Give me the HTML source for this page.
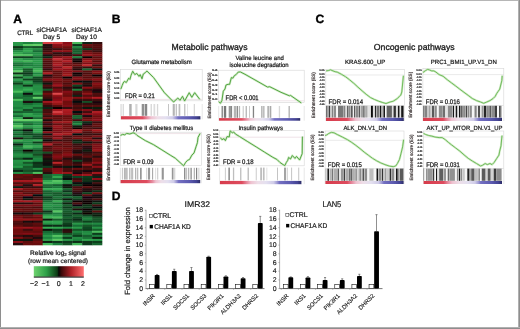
<!DOCTYPE html>
<html><head><meta charset="utf-8"><title>Figure</title>
<style>html,body{margin:0;padding:0;background:#fff;} svg{display:block;} text{font-family:'Liberation Sans', Arial, Helvetica, sans-serif;text-rendering:geometricPrecision;}</style>
</head><body>
<svg width="520" height="329" viewBox="0 0 520 329">
<rect x="0" y="0" width="520" height="329" fill="#ffffff"/>
<text x="13.3" y="23.3" font-size="12.1" font-weight="bold" fill="#000" stroke="#000" stroke-width="0.35">A</text>
<text x="111.7" y="23.3" font-size="12.1" font-weight="bold" fill="#000" stroke="#000" stroke-width="0.35">B</text>
<text x="315.6" y="22.9" font-size="12.1" font-weight="bold" fill="#000" stroke="#000" stroke-width="0.35">C</text>
<text x="111.7" y="200.4" font-size="12.1" font-weight="bold" fill="#000" stroke="#000" stroke-width="0.35">D</text>
<g filter="url(#blur)">
<rect x="13.00" y="42.00" width="10.19" height="2.33" fill="#2a9949"/>
<rect x="22.89" y="42.00" width="10.19" height="2.33" fill="#1e823e"/>
<rect x="32.78" y="42.00" width="10.19" height="2.33" fill="#269145"/>
<rect x="42.67" y="42.00" width="10.19" height="2.33" fill="#d43f43"/>
<rect x="52.56" y="42.00" width="10.19" height="2.33" fill="#cc3539"/>
<rect x="62.44" y="42.00" width="10.19" height="2.33" fill="#8a1014"/>
<rect x="72.33" y="42.00" width="10.19" height="2.33" fill="#46b85a"/>
<rect x="82.22" y="42.00" width="10.19" height="2.33" fill="#0a2112"/>
<rect x="92.11" y="42.00" width="10.19" height="2.33" fill="#32080a"/>
<rect x="13.00" y="44.03" width="10.19" height="2.33" fill="#299748"/>
<rect x="22.89" y="44.03" width="10.19" height="2.33" fill="#5dca64"/>
<rect x="32.78" y="44.03" width="10.19" height="2.33" fill="#64d068"/>
<rect x="42.67" y="44.03" width="10.19" height="2.33" fill="#270809"/>
<rect x="52.56" y="44.03" width="10.19" height="2.33" fill="#8b1014"/>
<rect x="62.44" y="44.03" width="10.19" height="2.33" fill="#911217"/>
<rect x="72.33" y="44.03" width="10.19" height="2.33" fill="#0e371b"/>
<rect x="82.22" y="44.03" width="10.19" height="2.33" fill="#6b0d10"/>
<rect x="92.11" y="44.03" width="10.19" height="2.33" fill="#550b0d"/>
<rect x="13.00" y="46.06" width="10.19" height="2.33" fill="#0d3419"/>
<rect x="22.89" y="46.06" width="10.19" height="2.33" fill="#155b2b"/>
<rect x="32.78" y="46.06" width="10.19" height="2.33" fill="#135126"/>
<rect x="42.67" y="46.06" width="10.19" height="2.33" fill="#260809"/>
<rect x="52.56" y="46.06" width="10.19" height="2.33" fill="#760e11"/>
<rect x="62.44" y="46.06" width="10.19" height="2.33" fill="#700e11"/>
<rect x="72.33" y="46.06" width="10.19" height="2.33" fill="#208640"/>
<rect x="82.22" y="46.06" width="10.19" height="2.33" fill="#500a0d"/>
<rect x="92.11" y="46.06" width="10.19" height="2.33" fill="#560b0d"/>
<rect x="13.00" y="48.09" width="10.19" height="2.33" fill="#16602d"/>
<rect x="22.89" y="48.09" width="10.19" height="2.33" fill="#2c9c4a"/>
<rect x="32.78" y="48.09" width="10.19" height="2.33" fill="#228a42"/>
<rect x="42.67" y="48.09" width="10.19" height="2.33" fill="#31080a"/>
<rect x="52.56" y="48.09" width="10.19" height="2.33" fill="#37090a"/>
<rect x="62.44" y="48.09" width="10.19" height="2.33" fill="#590b0e"/>
<rect x="72.33" y="48.09" width="10.19" height="2.33" fill="#155c2c"/>
<rect x="82.22" y="48.09" width="10.19" height="2.33" fill="#0e371b"/>
<rect x="92.11" y="48.09" width="10.19" height="2.33" fill="#440a0b"/>
<rect x="13.00" y="50.12" width="10.19" height="2.33" fill="#248d43"/>
<rect x="22.89" y="50.12" width="10.19" height="2.33" fill="#32a850"/>
<rect x="32.78" y="50.12" width="10.19" height="2.33" fill="#196c34"/>
<rect x="42.67" y="50.12" width="10.19" height="2.33" fill="#40090b"/>
<rect x="52.56" y="50.12" width="10.19" height="2.33" fill="#8c1115"/>
<rect x="62.44" y="50.12" width="10.19" height="2.33" fill="#8b1014"/>
<rect x="72.33" y="50.12" width="10.19" height="2.33" fill="#165f2d"/>
<rect x="82.22" y="50.12" width="10.19" height="2.33" fill="#590b0e"/>
<rect x="92.11" y="50.12" width="10.19" height="2.33" fill="#3b090a"/>
<rect x="13.00" y="52.15" width="10.19" height="2.33" fill="#30a54e"/>
<rect x="22.89" y="52.15" width="10.19" height="2.33" fill="#258e44"/>
<rect x="32.78" y="52.15" width="10.19" height="2.33" fill="#248e44"/>
<rect x="42.67" y="52.15" width="10.19" height="2.33" fill="#620c0f"/>
<rect x="52.56" y="52.15" width="10.19" height="2.33" fill="#2d0809"/>
<rect x="62.44" y="52.15" width="10.19" height="2.33" fill="#2e0809"/>
<rect x="72.33" y="52.15" width="10.19" height="2.33" fill="#176430"/>
<rect x="82.22" y="52.15" width="10.19" height="2.33" fill="#7a0e12"/>
<rect x="92.11" y="52.15" width="10.19" height="2.33" fill="#680d10"/>
<rect x="13.00" y="54.18" width="10.19" height="2.33" fill="#51c05f"/>
<rect x="22.89" y="54.18" width="10.19" height="2.33" fill="#4dbe5d"/>
<rect x="32.78" y="54.18" width="10.19" height="2.33" fill="#258f44"/>
<rect x="42.67" y="54.18" width="10.19" height="2.33" fill="#230808"/>
<rect x="52.56" y="54.18" width="10.19" height="2.33" fill="#440a0b"/>
<rect x="62.44" y="54.18" width="10.19" height="2.33" fill="#33080a"/>
<rect x="72.33" y="54.18" width="10.19" height="2.33" fill="#40090b"/>
<rect x="82.22" y="54.18" width="10.19" height="2.33" fill="#941318"/>
<rect x="92.11" y="54.18" width="10.19" height="2.33" fill="#7f0f13"/>
<rect x="13.00" y="56.21" width="10.19" height="2.33" fill="#10421f"/>
<rect x="22.89" y="56.21" width="10.19" height="2.33" fill="#104320"/>
<rect x="32.78" y="56.21" width="10.19" height="2.33" fill="#186932"/>
<rect x="42.67" y="56.21" width="10.19" height="2.33" fill="#0b2614"/>
<rect x="52.56" y="56.21" width="10.19" height="2.33" fill="#7e0f12"/>
<rect x="62.44" y="56.21" width="10.19" height="2.33" fill="#981519"/>
<rect x="72.33" y="56.21" width="10.19" height="2.33" fill="#1d7d3b"/>
<rect x="82.22" y="56.21" width="10.19" height="2.33" fill="#0f0606"/>
<rect x="92.11" y="56.21" width="10.19" height="2.33" fill="#5a0b0e"/>
<rect x="13.00" y="58.24" width="10.19" height="2.33" fill="#30a44e"/>
<rect x="22.89" y="58.24" width="10.19" height="2.33" fill="#238b42"/>
<rect x="32.78" y="58.24" width="10.19" height="2.33" fill="#248e44"/>
<rect x="42.67" y="58.24" width="10.19" height="2.33" fill="#6b0d10"/>
<rect x="52.56" y="58.24" width="10.19" height="2.33" fill="#c42c31"/>
<rect x="62.44" y="58.24" width="10.19" height="2.33" fill="#871014"/>
<rect x="72.33" y="58.24" width="10.19" height="2.33" fill="#170707"/>
<rect x="82.22" y="58.24" width="10.19" height="2.33" fill="#830f13"/>
<rect x="92.11" y="58.24" width="10.19" height="2.33" fill="#6f0d10"/>
<rect x="13.00" y="60.27" width="10.19" height="2.33" fill="#31a64f"/>
<rect x="22.89" y="60.27" width="10.19" height="2.33" fill="#40b357"/>
<rect x="32.78" y="60.27" width="10.19" height="2.33" fill="#2c9c4a"/>
<rect x="42.67" y="60.27" width="10.19" height="2.33" fill="#4d0a0c"/>
<rect x="52.56" y="60.27" width="10.19" height="2.33" fill="#911217"/>
<rect x="62.44" y="60.27" width="10.19" height="2.33" fill="#af1c22"/>
<rect x="72.33" y="60.27" width="10.19" height="2.33" fill="#0f0606"/>
<rect x="82.22" y="60.27" width="10.19" height="2.33" fill="#a0171c"/>
<rect x="92.11" y="60.27" width="10.19" height="2.33" fill="#570b0d"/>
<rect x="13.00" y="62.30" width="10.19" height="2.33" fill="#1c7a3a"/>
<rect x="22.89" y="62.30" width="10.19" height="2.33" fill="#1e823e"/>
<rect x="32.78" y="62.30" width="10.19" height="2.33" fill="#279346"/>
<rect x="42.67" y="62.30" width="10.19" height="2.33" fill="#510b0d"/>
<rect x="52.56" y="62.30" width="10.19" height="2.33" fill="#a1181d"/>
<rect x="62.44" y="62.30" width="10.19" height="2.33" fill="#7d0f12"/>
<rect x="72.33" y="62.30" width="10.19" height="2.33" fill="#4e0a0c"/>
<rect x="82.22" y="62.30" width="10.19" height="2.33" fill="#7e0f12"/>
<rect x="92.11" y="62.30" width="10.19" height="2.33" fill="#7d0f12"/>
<rect x="13.00" y="64.33" width="10.19" height="2.33" fill="#196a32"/>
<rect x="22.89" y="64.33" width="10.19" height="2.33" fill="#1c7a3a"/>
<rect x="32.78" y="64.33" width="10.19" height="2.33" fill="#218740"/>
<rect x="42.67" y="64.33" width="10.19" height="2.33" fill="#480a0c"/>
<rect x="52.56" y="64.33" width="10.19" height="2.33" fill="#a91a20"/>
<rect x="62.44" y="64.33" width="10.19" height="2.33" fill="#750e11"/>
<rect x="72.33" y="64.33" width="10.19" height="2.33" fill="#6c0d10"/>
<rect x="82.22" y="64.33" width="10.19" height="2.33" fill="#bf262b"/>
<rect x="92.11" y="64.33" width="10.19" height="2.33" fill="#35090a"/>
<rect x="13.00" y="66.36" width="10.19" height="2.33" fill="#289547"/>
<rect x="22.89" y="66.36" width="10.19" height="2.33" fill="#2c9d4b"/>
<rect x="32.78" y="66.36" width="10.19" height="2.33" fill="#228a42"/>
<rect x="42.67" y="66.36" width="10.19" height="2.33" fill="#4d0a0c"/>
<rect x="52.56" y="66.36" width="10.19" height="2.33" fill="#790e12"/>
<rect x="62.44" y="66.36" width="10.19" height="2.33" fill="#bb2127"/>
<rect x="72.33" y="66.36" width="10.19" height="2.33" fill="#3d090b"/>
<rect x="82.22" y="66.36" width="10.19" height="2.33" fill="#37090a"/>
<rect x="92.11" y="66.36" width="10.19" height="2.33" fill="#660c0f"/>
<rect x="13.00" y="68.39" width="10.19" height="2.33" fill="#2c9c4a"/>
<rect x="22.89" y="68.39" width="10.19" height="2.33" fill="#145528"/>
<rect x="32.78" y="68.39" width="10.19" height="2.33" fill="#39ae53"/>
<rect x="42.67" y="68.39" width="10.19" height="2.33" fill="#33080a"/>
<rect x="52.56" y="68.39" width="10.19" height="2.33" fill="#9d161b"/>
<rect x="62.44" y="68.39" width="10.19" height="2.33" fill="#8c1115"/>
<rect x="72.33" y="68.39" width="10.19" height="2.33" fill="#210708"/>
<rect x="82.22" y="68.39" width="10.19" height="2.33" fill="#176530"/>
<rect x="92.11" y="68.39" width="10.19" height="2.33" fill="#07110b"/>
<rect x="13.00" y="70.42" width="10.19" height="2.33" fill="#64d068"/>
<rect x="22.89" y="70.42" width="10.19" height="2.33" fill="#145528"/>
<rect x="32.78" y="70.42" width="10.19" height="2.33" fill="#46b859"/>
<rect x="42.67" y="70.42" width="10.19" height="2.33" fill="#690d10"/>
<rect x="52.56" y="70.42" width="10.19" height="2.33" fill="#630c0f"/>
<rect x="62.44" y="70.42" width="10.19" height="2.33" fill="#881014"/>
<rect x="72.33" y="70.42" width="10.19" height="2.33" fill="#7d0f12"/>
<rect x="82.22" y="70.42" width="10.19" height="2.33" fill="#5d0c0e"/>
<rect x="92.11" y="70.42" width="10.19" height="2.33" fill="#830f13"/>
<rect x="13.00" y="72.45" width="10.19" height="2.33" fill="#0d3018"/>
<rect x="22.89" y="72.45" width="10.19" height="2.33" fill="#0e381b"/>
<rect x="32.78" y="72.45" width="10.19" height="2.33" fill="#1f843f"/>
<rect x="42.67" y="72.45" width="10.19" height="2.33" fill="#ad1c21"/>
<rect x="52.56" y="72.45" width="10.19" height="2.33" fill="#610c0f"/>
<rect x="62.44" y="72.45" width="10.19" height="2.33" fill="#911217"/>
<rect x="72.33" y="72.45" width="10.19" height="2.33" fill="#0c0606"/>
<rect x="82.22" y="72.45" width="10.19" height="2.33" fill="#490a0c"/>
<rect x="92.11" y="72.45" width="10.19" height="2.33" fill="#760e11"/>
<rect x="13.00" y="74.48" width="10.19" height="2.33" fill="#40b357"/>
<rect x="22.89" y="74.48" width="10.19" height="2.33" fill="#155a2b"/>
<rect x="32.78" y="74.48" width="10.19" height="2.33" fill="#2ea04c"/>
<rect x="42.67" y="74.48" width="10.19" height="2.33" fill="#1a0707"/>
<rect x="52.56" y="74.48" width="10.19" height="2.33" fill="#640c0f"/>
<rect x="62.44" y="74.48" width="10.19" height="2.33" fill="#a5191e"/>
<rect x="72.33" y="74.48" width="10.19" height="2.33" fill="#1b0708"/>
<rect x="82.22" y="74.48" width="10.19" height="2.33" fill="#5e0c0e"/>
<rect x="92.11" y="74.48" width="10.19" height="2.33" fill="#0e0606"/>
<rect x="13.00" y="76.51" width="10.19" height="2.33" fill="#10421f"/>
<rect x="22.89" y="76.51" width="10.19" height="2.33" fill="#299748"/>
<rect x="32.78" y="76.51" width="10.19" height="2.33" fill="#114922"/>
<rect x="42.67" y="76.51" width="10.19" height="2.33" fill="#460a0b"/>
<rect x="52.56" y="76.51" width="10.19" height="2.33" fill="#5f0c0e"/>
<rect x="62.44" y="76.51" width="10.19" height="2.33" fill="#0c0606"/>
<rect x="72.33" y="76.51" width="10.19" height="2.33" fill="#7f0f13"/>
<rect x="82.22" y="76.51" width="10.19" height="2.33" fill="#560b0d"/>
<rect x="92.11" y="76.51" width="10.19" height="2.33" fill="#5d0c0e"/>
<rect x="13.00" y="78.54" width="10.19" height="2.33" fill="#2ea14d"/>
<rect x="22.89" y="78.54" width="10.19" height="2.33" fill="#0f3f1e"/>
<rect x="32.78" y="78.54" width="10.19" height="2.33" fill="#10411f"/>
<rect x="42.67" y="78.54" width="10.19" height="2.33" fill="#851013"/>
<rect x="52.56" y="78.54" width="10.19" height="2.33" fill="#891014"/>
<rect x="62.44" y="78.54" width="10.19" height="2.33" fill="#630c0f"/>
<rect x="72.33" y="78.54" width="10.19" height="2.33" fill="#7f0f13"/>
<rect x="82.22" y="78.54" width="10.19" height="2.33" fill="#740e11"/>
<rect x="92.11" y="78.54" width="10.19" height="2.33" fill="#8c1115"/>
<rect x="13.00" y="80.57" width="10.19" height="2.33" fill="#1c7a3a"/>
<rect x="22.89" y="80.57" width="10.19" height="2.33" fill="#2a9949"/>
<rect x="32.78" y="80.57" width="10.19" height="2.33" fill="#104320"/>
<rect x="42.67" y="80.57" width="10.19" height="2.33" fill="#40090b"/>
<rect x="52.56" y="80.57" width="10.19" height="2.33" fill="#680d10"/>
<rect x="62.44" y="80.57" width="10.19" height="2.33" fill="#6a0d10"/>
<rect x="72.33" y="80.57" width="10.19" height="2.33" fill="#060b08"/>
<rect x="82.22" y="80.57" width="10.19" height="2.33" fill="#070d09"/>
<rect x="92.11" y="80.57" width="10.19" height="2.33" fill="#510b0d"/>
<rect x="13.00" y="82.60" width="10.19" height="2.33" fill="#10421f"/>
<rect x="22.89" y="82.60" width="10.19" height="2.33" fill="#269245"/>
<rect x="32.78" y="82.60" width="10.19" height="2.33" fill="#186932"/>
<rect x="42.67" y="82.60" width="10.19" height="2.33" fill="#08150d"/>
<rect x="52.56" y="82.60" width="10.19" height="2.33" fill="#7c0f12"/>
<rect x="62.44" y="82.60" width="10.19" height="2.33" fill="#4c0a0c"/>
<rect x="72.33" y="82.60" width="10.19" height="2.33" fill="#810f13"/>
<rect x="82.22" y="82.60" width="10.19" height="2.33" fill="#36090a"/>
<rect x="92.11" y="82.60" width="10.19" height="2.33" fill="#871014"/>
<rect x="13.00" y="84.63" width="10.19" height="2.33" fill="#208640"/>
<rect x="22.89" y="84.63" width="10.19" height="2.33" fill="#0d3219"/>
<rect x="32.78" y="84.63" width="10.19" height="2.33" fill="#238c43"/>
<rect x="42.67" y="84.63" width="10.19" height="2.33" fill="#500a0d"/>
<rect x="52.56" y="84.63" width="10.19" height="2.33" fill="#9f171c"/>
<rect x="62.44" y="84.63" width="10.19" height="2.33" fill="#6a0d10"/>
<rect x="72.33" y="84.63" width="10.19" height="2.33" fill="#104521"/>
<rect x="82.22" y="84.63" width="10.19" height="2.33" fill="#1a0707"/>
<rect x="92.11" y="84.63" width="10.19" height="2.33" fill="#760e11"/>
<rect x="13.00" y="86.66" width="10.19" height="2.33" fill="#248e44"/>
<rect x="22.89" y="86.66" width="10.19" height="2.33" fill="#2a9a49"/>
<rect x="32.78" y="86.66" width="10.19" height="2.33" fill="#258f44"/>
<rect x="42.67" y="86.66" width="10.19" height="2.33" fill="#2f0809"/>
<rect x="52.56" y="86.66" width="10.19" height="2.33" fill="#4c0a0c"/>
<rect x="62.44" y="86.66" width="10.19" height="2.33" fill="#2a0809"/>
<rect x="72.33" y="86.66" width="10.19" height="2.33" fill="#180707"/>
<rect x="82.22" y="86.66" width="10.19" height="2.33" fill="#8a1014"/>
<rect x="92.11" y="86.66" width="10.19" height="2.33" fill="#650c0f"/>
<rect x="13.00" y="88.69" width="10.19" height="2.33" fill="#2c9c4a"/>
<rect x="22.89" y="88.69" width="10.19" height="2.33" fill="#39ae54"/>
<rect x="32.78" y="88.69" width="10.19" height="2.33" fill="#258f44"/>
<rect x="42.67" y="88.69" width="10.19" height="2.33" fill="#15592a"/>
<rect x="52.56" y="88.69" width="10.19" height="2.33" fill="#7a0e12"/>
<rect x="62.44" y="88.69" width="10.19" height="2.33" fill="#460a0b"/>
<rect x="72.33" y="88.69" width="10.19" height="2.33" fill="#1e823e"/>
<rect x="82.22" y="88.69" width="10.19" height="2.33" fill="#3b090a"/>
<rect x="92.11" y="88.69" width="10.19" height="2.33" fill="#280809"/>
<rect x="13.00" y="90.72" width="10.19" height="2.33" fill="#4dbe5d"/>
<rect x="22.89" y="90.72" width="10.19" height="2.33" fill="#248e44"/>
<rect x="32.78" y="90.72" width="10.19" height="2.33" fill="#2b9a4a"/>
<rect x="42.67" y="90.72" width="10.19" height="2.33" fill="#3e090b"/>
<rect x="52.56" y="90.72" width="10.19" height="2.33" fill="#770e12"/>
<rect x="62.44" y="90.72" width="10.19" height="2.33" fill="#861013"/>
<rect x="72.33" y="90.72" width="10.19" height="2.33" fill="#4b0a0c"/>
<rect x="82.22" y="90.72" width="10.19" height="2.33" fill="#620c0f"/>
<rect x="92.11" y="90.72" width="10.19" height="2.33" fill="#160707"/>
<rect x="13.00" y="92.75" width="10.19" height="2.33" fill="#218941"/>
<rect x="22.89" y="92.75" width="10.19" height="2.33" fill="#07100b"/>
<rect x="32.78" y="92.75" width="10.19" height="2.33" fill="#36ab52"/>
<rect x="42.67" y="92.75" width="10.19" height="2.33" fill="#720e11"/>
<rect x="52.56" y="92.75" width="10.19" height="2.33" fill="#dd494c"/>
<rect x="62.44" y="92.75" width="10.19" height="2.33" fill="#760e11"/>
<rect x="72.33" y="92.75" width="10.19" height="2.33" fill="#3b090a"/>
<rect x="82.22" y="92.75" width="10.19" height="2.33" fill="#901216"/>
<rect x="92.11" y="92.75" width="10.19" height="2.33" fill="#520b0d"/>
<rect x="13.00" y="94.78" width="10.19" height="2.33" fill="#1e833e"/>
<rect x="22.89" y="94.78" width="10.19" height="2.33" fill="#165f2d"/>
<rect x="32.78" y="94.78" width="10.19" height="2.33" fill="#155a2b"/>
<rect x="42.67" y="94.78" width="10.19" height="2.33" fill="#500a0d"/>
<rect x="52.56" y="94.78" width="10.19" height="2.33" fill="#931317"/>
<rect x="62.44" y="94.78" width="10.19" height="2.33" fill="#680d10"/>
<rect x="72.33" y="94.78" width="10.19" height="2.33" fill="#0a2112"/>
<rect x="82.22" y="94.78" width="10.19" height="2.33" fill="#550b0d"/>
<rect x="92.11" y="94.78" width="10.19" height="2.33" fill="#4a0a0c"/>
<rect x="13.00" y="96.81" width="10.19" height="2.33" fill="#1a6f35"/>
<rect x="22.89" y="96.81" width="10.19" height="2.33" fill="#1b7738"/>
<rect x="32.78" y="96.81" width="10.19" height="2.33" fill="#64d068"/>
<rect x="42.67" y="96.81" width="10.19" height="2.33" fill="#3d090b"/>
<rect x="52.56" y="96.81" width="10.19" height="2.33" fill="#7d0f12"/>
<rect x="62.44" y="96.81" width="10.19" height="2.33" fill="#911217"/>
<rect x="72.33" y="96.81" width="10.19" height="2.33" fill="#800f13"/>
<rect x="82.22" y="96.81" width="10.19" height="2.33" fill="#8b1014"/>
<rect x="92.11" y="96.81" width="10.19" height="2.33" fill="#b01d22"/>
<rect x="13.00" y="98.84" width="10.19" height="2.33" fill="#50c05e"/>
<rect x="22.89" y="98.84" width="10.19" height="2.33" fill="#1b7638"/>
<rect x="32.78" y="98.84" width="10.19" height="2.33" fill="#1b7337"/>
<rect x="42.67" y="98.84" width="10.19" height="2.33" fill="#140707"/>
<rect x="52.56" y="98.84" width="10.19" height="2.33" fill="#8a1014"/>
<rect x="62.44" y="98.84" width="10.19" height="2.33" fill="#941318"/>
<rect x="72.33" y="98.84" width="10.19" height="2.33" fill="#31080a"/>
<rect x="82.22" y="98.84" width="10.19" height="2.33" fill="#3c090b"/>
<rect x="92.11" y="98.84" width="10.19" height="2.33" fill="#43090b"/>
<rect x="13.00" y="100.87" width="10.19" height="2.33" fill="#248e44"/>
<rect x="22.89" y="100.87" width="10.19" height="2.33" fill="#1b0708"/>
<rect x="32.78" y="100.87" width="10.19" height="2.33" fill="#0c2a15"/>
<rect x="42.67" y="100.87" width="10.19" height="2.33" fill="#a0171c"/>
<rect x="52.56" y="100.87" width="10.19" height="2.33" fill="#b01d22"/>
<rect x="62.44" y="100.87" width="10.19" height="2.33" fill="#700e11"/>
<rect x="72.33" y="100.87" width="10.19" height="2.33" fill="#060a08"/>
<rect x="82.22" y="100.87" width="10.19" height="2.33" fill="#134f25"/>
<rect x="92.11" y="100.87" width="10.19" height="2.33" fill="#1f0708"/>
<rect x="13.00" y="102.90" width="10.19" height="2.33" fill="#248e44"/>
<rect x="22.89" y="102.90" width="10.19" height="2.33" fill="#186932"/>
<rect x="32.78" y="102.90" width="10.19" height="2.33" fill="#1d7f3d"/>
<rect x="42.67" y="102.90" width="10.19" height="2.33" fill="#640c0f"/>
<rect x="52.56" y="102.90" width="10.19" height="2.33" fill="#961418"/>
<rect x="62.44" y="102.90" width="10.19" height="2.33" fill="#750e11"/>
<rect x="72.33" y="102.90" width="10.19" height="2.33" fill="#34090a"/>
<rect x="82.22" y="102.90" width="10.19" height="2.33" fill="#33080a"/>
<rect x="92.11" y="102.90" width="10.19" height="2.33" fill="#2a0809"/>
<rect x="13.00" y="104.93" width="10.19" height="2.33" fill="#258f44"/>
<rect x="22.89" y="104.93" width="10.19" height="2.33" fill="#228941"/>
<rect x="32.78" y="104.93" width="10.19" height="2.33" fill="#258f44"/>
<rect x="42.67" y="104.93" width="10.19" height="2.33" fill="#32080a"/>
<rect x="52.56" y="104.93" width="10.19" height="2.33" fill="#5a0b0e"/>
<rect x="62.44" y="104.93" width="10.19" height="2.33" fill="#7f0f13"/>
<rect x="72.33" y="104.93" width="10.19" height="2.33" fill="#540b0d"/>
<rect x="82.22" y="104.93" width="10.19" height="2.33" fill="#560b0d"/>
<rect x="92.11" y="104.93" width="10.19" height="2.33" fill="#550b0d"/>
<rect x="13.00" y="106.96" width="10.19" height="2.33" fill="#1d7f3d"/>
<rect x="22.89" y="106.96" width="10.19" height="2.33" fill="#259045"/>
<rect x="32.78" y="106.96" width="10.19" height="2.33" fill="#17612e"/>
<rect x="42.67" y="106.96" width="10.19" height="2.33" fill="#0b2714"/>
<rect x="52.56" y="106.96" width="10.19" height="2.33" fill="#0e0606"/>
<rect x="62.44" y="106.96" width="10.19" height="2.33" fill="#33080a"/>
<rect x="72.33" y="106.96" width="10.19" height="2.33" fill="#3e090b"/>
<rect x="82.22" y="106.96" width="10.19" height="2.33" fill="#08160d"/>
<rect x="92.11" y="106.96" width="10.19" height="2.33" fill="#0a1f11"/>
<rect x="13.00" y="108.99" width="10.19" height="2.33" fill="#269145"/>
<rect x="22.89" y="108.99" width="10.19" height="2.33" fill="#124e25"/>
<rect x="32.78" y="108.99" width="10.19" height="2.33" fill="#1f833e"/>
<rect x="42.67" y="108.99" width="10.19" height="2.33" fill="#460a0b"/>
<rect x="52.56" y="108.99" width="10.19" height="2.33" fill="#a0171c"/>
<rect x="62.44" y="108.99" width="10.19" height="2.33" fill="#ad1c21"/>
<rect x="72.33" y="108.99" width="10.19" height="2.33" fill="#610c0f"/>
<rect x="82.22" y="108.99" width="10.19" height="2.33" fill="#810f13"/>
<rect x="92.11" y="108.99" width="10.19" height="2.33" fill="#43090b"/>
<rect x="13.00" y="111.02" width="10.19" height="2.33" fill="#165f2d"/>
<rect x="22.89" y="111.02" width="10.19" height="2.33" fill="#186530"/>
<rect x="32.78" y="111.02" width="10.19" height="2.33" fill="#196a32"/>
<rect x="42.67" y="111.02" width="10.19" height="2.33" fill="#43090b"/>
<rect x="52.56" y="111.02" width="10.19" height="2.33" fill="#d43f43"/>
<rect x="62.44" y="111.02" width="10.19" height="2.33" fill="#a6191f"/>
<rect x="72.33" y="111.02" width="10.19" height="2.33" fill="#060b08"/>
<rect x="82.22" y="111.02" width="10.19" height="2.33" fill="#41090b"/>
<rect x="92.11" y="111.02" width="10.19" height="2.33" fill="#ad1c21"/>
<rect x="13.00" y="113.05" width="10.19" height="2.33" fill="#258f44"/>
<rect x="22.89" y="113.05" width="10.19" height="2.33" fill="#30a44e"/>
<rect x="32.78" y="113.05" width="10.19" height="2.33" fill="#228a42"/>
<rect x="42.67" y="113.05" width="10.19" height="2.33" fill="#610c0f"/>
<rect x="52.56" y="113.05" width="10.19" height="2.33" fill="#b51e24"/>
<rect x="62.44" y="113.05" width="10.19" height="2.33" fill="#9e171b"/>
<rect x="72.33" y="113.05" width="10.19" height="2.33" fill="#3c090b"/>
<rect x="82.22" y="113.05" width="10.19" height="2.33" fill="#871014"/>
<rect x="92.11" y="113.05" width="10.19" height="2.33" fill="#8d1115"/>
<rect x="13.00" y="115.08" width="10.19" height="2.33" fill="#186831"/>
<rect x="22.89" y="115.08" width="10.19" height="2.33" fill="#299848"/>
<rect x="32.78" y="115.08" width="10.19" height="2.33" fill="#299748"/>
<rect x="42.67" y="115.08" width="10.19" height="2.33" fill="#3a090a"/>
<rect x="52.56" y="115.08" width="10.19" height="2.33" fill="#540b0d"/>
<rect x="62.44" y="115.08" width="10.19" height="2.33" fill="#640c0f"/>
<rect x="72.33" y="115.08" width="10.19" height="2.33" fill="#17632f"/>
<rect x="82.22" y="115.08" width="10.19" height="2.33" fill="#1e0708"/>
<rect x="92.11" y="115.08" width="10.19" height="2.33" fill="#6d0d10"/>
<rect x="13.00" y="117.11" width="10.19" height="2.33" fill="#35aa51"/>
<rect x="22.89" y="117.11" width="10.19" height="2.33" fill="#091d10"/>
<rect x="32.78" y="117.11" width="10.19" height="2.33" fill="#186831"/>
<rect x="42.67" y="117.11" width="10.19" height="2.33" fill="#690d10"/>
<rect x="52.56" y="117.11" width="10.19" height="2.33" fill="#650c0f"/>
<rect x="62.44" y="117.11" width="10.19" height="2.33" fill="#6a0d10"/>
<rect x="72.33" y="117.11" width="10.19" height="2.33" fill="#15582a"/>
<rect x="82.22" y="117.11" width="10.19" height="2.33" fill="#620c0f"/>
<rect x="92.11" y="117.11" width="10.19" height="2.33" fill="#7b0f12"/>
<rect x="13.00" y="119.14" width="10.19" height="2.33" fill="#64d068"/>
<rect x="22.89" y="119.14" width="10.19" height="2.33" fill="#64d068"/>
<rect x="32.78" y="119.14" width="10.19" height="2.33" fill="#5ac863"/>
<rect x="42.67" y="119.14" width="10.19" height="2.33" fill="#190707"/>
<rect x="52.56" y="119.14" width="10.19" height="2.33" fill="#530b0d"/>
<rect x="62.44" y="119.14" width="10.19" height="2.33" fill="#710e11"/>
<rect x="72.33" y="119.14" width="10.19" height="2.33" fill="#3e090b"/>
<rect x="82.22" y="119.14" width="10.19" height="2.33" fill="#730e11"/>
<rect x="92.11" y="119.14" width="10.19" height="2.33" fill="#8a1014"/>
<rect x="13.00" y="121.17" width="10.19" height="2.33" fill="#1d7e3c"/>
<rect x="22.89" y="121.17" width="10.19" height="2.33" fill="#1e823e"/>
<rect x="32.78" y="121.17" width="10.19" height="2.33" fill="#248e44"/>
<rect x="42.67" y="121.17" width="10.19" height="2.33" fill="#560b0d"/>
<rect x="52.56" y="121.17" width="10.19" height="2.33" fill="#9e171b"/>
<rect x="62.44" y="121.17" width="10.19" height="2.33" fill="#9c161b"/>
<rect x="72.33" y="121.17" width="10.19" height="2.33" fill="#196a32"/>
<rect x="82.22" y="121.17" width="10.19" height="2.33" fill="#0c2b16"/>
<rect x="92.11" y="121.17" width="10.19" height="2.33" fill="#39090a"/>
<rect x="13.00" y="123.20" width="10.19" height="2.33" fill="#30a34e"/>
<rect x="22.89" y="123.20" width="10.19" height="2.33" fill="#17622e"/>
<rect x="32.78" y="123.20" width="10.19" height="2.33" fill="#1f833f"/>
<rect x="42.67" y="123.20" width="10.19" height="2.33" fill="#2b0809"/>
<rect x="52.56" y="123.20" width="10.19" height="2.33" fill="#650c0f"/>
<rect x="62.44" y="123.20" width="10.19" height="2.33" fill="#630c0f"/>
<rect x="72.33" y="123.20" width="10.19" height="2.33" fill="#1e833e"/>
<rect x="82.22" y="123.20" width="10.19" height="2.33" fill="#150707"/>
<rect x="92.11" y="123.20" width="10.19" height="2.33" fill="#5e0c0e"/>
<rect x="13.00" y="125.23" width="10.19" height="2.33" fill="#61cd66"/>
<rect x="22.89" y="125.23" width="10.19" height="2.33" fill="#2d9e4b"/>
<rect x="32.78" y="125.23" width="10.19" height="2.33" fill="#36ac52"/>
<rect x="42.67" y="125.23" width="10.19" height="2.33" fill="#530b0d"/>
<rect x="52.56" y="125.23" width="10.19" height="2.33" fill="#99151a"/>
<rect x="62.44" y="125.23" width="10.19" height="2.33" fill="#750e11"/>
<rect x="72.33" y="125.23" width="10.19" height="2.33" fill="#0a1e10"/>
<rect x="82.22" y="125.23" width="10.19" height="2.33" fill="#43090b"/>
<rect x="92.11" y="125.23" width="10.19" height="2.33" fill="#600c0f"/>
<rect x="13.00" y="127.26" width="10.19" height="2.33" fill="#31a54f"/>
<rect x="22.89" y="127.26" width="10.19" height="2.33" fill="#1c7839"/>
<rect x="32.78" y="127.26" width="10.19" height="2.33" fill="#269245"/>
<rect x="42.67" y="127.26" width="10.19" height="2.33" fill="#0c0606"/>
<rect x="52.56" y="127.26" width="10.19" height="2.33" fill="#881014"/>
<rect x="62.44" y="127.26" width="10.19" height="2.33" fill="#690d10"/>
<rect x="72.33" y="127.26" width="10.19" height="2.33" fill="#0f0606"/>
<rect x="82.22" y="127.26" width="10.19" height="2.33" fill="#490a0c"/>
<rect x="92.11" y="127.26" width="10.19" height="2.33" fill="#3a090a"/>
<rect x="13.00" y="129.29" width="10.19" height="2.33" fill="#114922"/>
<rect x="22.89" y="129.29" width="10.19" height="2.33" fill="#070e0a"/>
<rect x="32.78" y="129.29" width="10.19" height="2.33" fill="#30a44e"/>
<rect x="42.67" y="129.29" width="10.19" height="2.33" fill="#0b0606"/>
<rect x="52.56" y="129.29" width="10.19" height="2.33" fill="#830f13"/>
<rect x="62.44" y="129.29" width="10.19" height="2.33" fill="#7d0f12"/>
<rect x="72.33" y="129.29" width="10.19" height="2.33" fill="#ae1c21"/>
<rect x="82.22" y="129.29" width="10.19" height="2.33" fill="#720e11"/>
<rect x="92.11" y="129.29" width="10.19" height="2.33" fill="#a5191e"/>
<rect x="13.00" y="131.32" width="10.19" height="2.33" fill="#1e813e"/>
<rect x="22.89" y="131.32" width="10.19" height="2.33" fill="#135026"/>
<rect x="32.78" y="131.32" width="10.19" height="2.33" fill="#2b9a4a"/>
<rect x="42.67" y="131.32" width="10.19" height="2.33" fill="#881014"/>
<rect x="52.56" y="131.32" width="10.19" height="2.33" fill="#7c0f12"/>
<rect x="62.44" y="131.32" width="10.19" height="2.33" fill="#911217"/>
<rect x="72.33" y="131.32" width="10.19" height="2.33" fill="#99151a"/>
<rect x="82.22" y="131.32" width="10.19" height="2.33" fill="#4a0a0c"/>
<rect x="92.11" y="131.32" width="10.19" height="2.33" fill="#6d0d10"/>
<rect x="13.00" y="133.35" width="10.19" height="2.33" fill="#17622f"/>
<rect x="22.89" y="133.35" width="10.19" height="2.33" fill="#10421f"/>
<rect x="32.78" y="133.35" width="10.19" height="2.33" fill="#124f25"/>
<rect x="42.67" y="133.35" width="10.19" height="2.33" fill="#140707"/>
<rect x="52.56" y="133.35" width="10.19" height="2.33" fill="#b31e23"/>
<rect x="62.44" y="133.35" width="10.19" height="2.33" fill="#a3181d"/>
<rect x="72.33" y="133.35" width="10.19" height="2.33" fill="#060c09"/>
<rect x="82.22" y="133.35" width="10.19" height="2.33" fill="#3b090a"/>
<rect x="92.11" y="133.35" width="10.19" height="2.33" fill="#37090a"/>
<rect x="13.00" y="135.38" width="10.19" height="2.33" fill="#1d7f3d"/>
<rect x="22.89" y="135.38" width="10.19" height="2.33" fill="#1b7437"/>
<rect x="32.78" y="135.38" width="10.19" height="2.33" fill="#114822"/>
<rect x="42.67" y="135.38" width="10.19" height="2.33" fill="#620c0f"/>
<rect x="52.56" y="135.38" width="10.19" height="2.33" fill="#700e11"/>
<rect x="62.44" y="135.38" width="10.19" height="2.33" fill="#470a0c"/>
<rect x="72.33" y="135.38" width="10.19" height="2.33" fill="#5d0c0e"/>
<rect x="82.22" y="135.38" width="10.19" height="2.33" fill="#560b0d"/>
<rect x="92.11" y="135.38" width="10.19" height="2.33" fill="#7d0f12"/>
<rect x="13.00" y="137.41" width="10.19" height="2.33" fill="#1b0708"/>
<rect x="22.89" y="137.41" width="10.19" height="2.33" fill="#135227"/>
<rect x="32.78" y="137.41" width="10.19" height="2.33" fill="#10421f"/>
<rect x="42.67" y="137.41" width="10.19" height="2.33" fill="#3a090a"/>
<rect x="52.56" y="137.41" width="10.19" height="2.33" fill="#9c161b"/>
<rect x="62.44" y="137.41" width="10.19" height="2.33" fill="#550b0d"/>
<rect x="72.33" y="137.41" width="10.19" height="2.33" fill="#6f0d11"/>
<rect x="82.22" y="137.41" width="10.19" height="2.33" fill="#750e11"/>
<rect x="92.11" y="137.41" width="10.19" height="2.33" fill="#210708"/>
<rect x="13.00" y="139.44" width="10.19" height="2.33" fill="#3db155"/>
<rect x="22.89" y="139.44" width="10.19" height="2.33" fill="#2a9949"/>
<rect x="32.78" y="139.44" width="10.19" height="2.33" fill="#36ab52"/>
<rect x="42.67" y="139.44" width="10.19" height="2.33" fill="#07100a"/>
<rect x="52.56" y="139.44" width="10.19" height="2.33" fill="#32080a"/>
<rect x="62.44" y="139.44" width="10.19" height="2.33" fill="#450a0b"/>
<rect x="72.33" y="139.44" width="10.19" height="2.33" fill="#0a2111"/>
<rect x="82.22" y="139.44" width="10.19" height="2.33" fill="#630c0f"/>
<rect x="92.11" y="139.44" width="10.19" height="2.33" fill="#8a1014"/>
<rect x="13.00" y="141.47" width="10.19" height="2.33" fill="#1c7a3a"/>
<rect x="22.89" y="141.47" width="10.19" height="2.33" fill="#1f843f"/>
<rect x="32.78" y="141.47" width="10.19" height="2.33" fill="#0f3c1d"/>
<rect x="42.67" y="141.47" width="10.19" height="2.33" fill="#550b0d"/>
<rect x="52.56" y="141.47" width="10.19" height="2.33" fill="#7a0e12"/>
<rect x="62.44" y="141.47" width="10.19" height="2.33" fill="#5b0b0e"/>
<rect x="72.33" y="141.47" width="10.19" height="2.33" fill="#0d3219"/>
<rect x="82.22" y="141.47" width="10.19" height="2.33" fill="#08140c"/>
<rect x="92.11" y="141.47" width="10.19" height="2.33" fill="#38090a"/>
<rect x="13.00" y="143.50" width="10.19" height="2.33" fill="#0a2312"/>
<rect x="22.89" y="143.50" width="10.19" height="2.33" fill="#248d43"/>
<rect x="32.78" y="143.50" width="10.19" height="2.33" fill="#1f843f"/>
<rect x="42.67" y="143.50" width="10.19" height="2.33" fill="#b71f25"/>
<rect x="52.56" y="143.50" width="10.19" height="2.33" fill="#530b0d"/>
<rect x="62.44" y="143.50" width="10.19" height="2.33" fill="#6e0d10"/>
<rect x="72.33" y="143.50" width="10.19" height="2.33" fill="#38090a"/>
<rect x="82.22" y="143.50" width="10.19" height="2.33" fill="#5c0c0e"/>
<rect x="92.11" y="143.50" width="10.19" height="2.33" fill="#7d0f12"/>
<rect x="13.00" y="145.53" width="10.19" height="2.33" fill="#1a7035"/>
<rect x="22.89" y="145.53" width="10.19" height="2.33" fill="#44b759"/>
<rect x="32.78" y="145.53" width="10.19" height="2.33" fill="#31a64f"/>
<rect x="42.67" y="145.53" width="10.19" height="2.33" fill="#43090b"/>
<rect x="52.56" y="145.53" width="10.19" height="2.33" fill="#6b0d10"/>
<rect x="62.44" y="145.53" width="10.19" height="2.33" fill="#580b0e"/>
<rect x="72.33" y="145.53" width="10.19" height="2.33" fill="#42090b"/>
<rect x="82.22" y="145.53" width="10.19" height="2.33" fill="#280809"/>
<rect x="92.11" y="145.53" width="10.19" height="2.33" fill="#780e12"/>
<rect x="13.00" y="147.56" width="10.19" height="2.33" fill="#1d7f3d"/>
<rect x="22.89" y="147.56" width="10.19" height="2.33" fill="#2a9849"/>
<rect x="32.78" y="147.56" width="10.19" height="2.33" fill="#1d7b3b"/>
<rect x="42.67" y="147.56" width="10.19" height="2.33" fill="#560b0d"/>
<rect x="52.56" y="147.56" width="10.19" height="2.33" fill="#7a0e12"/>
<rect x="62.44" y="147.56" width="10.19" height="2.33" fill="#760e11"/>
<rect x="72.33" y="147.56" width="10.19" height="2.33" fill="#550b0d"/>
<rect x="82.22" y="147.56" width="10.19" height="2.33" fill="#2a0809"/>
<rect x="92.11" y="147.56" width="10.19" height="2.33" fill="#840f13"/>
<rect x="13.00" y="149.59" width="10.19" height="2.33" fill="#17632f"/>
<rect x="22.89" y="149.59" width="10.19" height="2.33" fill="#0c0606"/>
<rect x="32.78" y="149.59" width="10.19" height="2.33" fill="#124d25"/>
<rect x="42.67" y="149.59" width="10.19" height="2.33" fill="#520b0d"/>
<rect x="52.56" y="149.59" width="10.19" height="2.33" fill="#5e0c0e"/>
<rect x="62.44" y="149.59" width="10.19" height="2.33" fill="#620c0f"/>
<rect x="72.33" y="149.59" width="10.19" height="2.33" fill="#220708"/>
<rect x="82.22" y="149.59" width="10.19" height="2.33" fill="#091c10"/>
<rect x="92.11" y="149.59" width="10.19" height="2.33" fill="#951418"/>
<rect x="13.00" y="151.62" width="10.19" height="2.33" fill="#1d7c3b"/>
<rect x="22.89" y="151.62" width="10.19" height="2.33" fill="#134f25"/>
<rect x="32.78" y="151.62" width="10.19" height="2.33" fill="#186630"/>
<rect x="42.67" y="151.62" width="10.19" height="2.33" fill="#124d24"/>
<rect x="52.56" y="151.62" width="10.19" height="2.33" fill="#4d0a0c"/>
<rect x="62.44" y="151.62" width="10.19" height="2.33" fill="#730e11"/>
<rect x="72.33" y="151.62" width="10.19" height="2.33" fill="#140707"/>
<rect x="82.22" y="151.62" width="10.19" height="2.33" fill="#2a0809"/>
<rect x="92.11" y="151.62" width="10.19" height="2.33" fill="#40090b"/>
<rect x="13.00" y="153.65" width="10.19" height="2.33" fill="#269145"/>
<rect x="22.89" y="153.65" width="10.19" height="2.33" fill="#238c43"/>
<rect x="32.78" y="153.65" width="10.19" height="2.33" fill="#124c24"/>
<rect x="42.67" y="153.65" width="10.19" height="2.33" fill="#290809"/>
<rect x="52.56" y="153.65" width="10.19" height="2.33" fill="#760e11"/>
<rect x="62.44" y="153.65" width="10.19" height="2.33" fill="#8c1115"/>
<rect x="72.33" y="153.65" width="10.19" height="2.33" fill="#6b0d10"/>
<rect x="82.22" y="153.65" width="10.19" height="2.33" fill="#460a0b"/>
<rect x="92.11" y="153.65" width="10.19" height="2.33" fill="#610c0f"/>
<rect x="13.00" y="155.68" width="10.19" height="2.33" fill="#238b42"/>
<rect x="22.89" y="155.68" width="10.19" height="2.33" fill="#218841"/>
<rect x="32.78" y="155.68" width="10.19" height="2.33" fill="#1a7236"/>
<rect x="42.67" y="155.68" width="10.19" height="2.33" fill="#3a090a"/>
<rect x="52.56" y="155.68" width="10.19" height="2.33" fill="#881014"/>
<rect x="62.44" y="155.68" width="10.19" height="2.33" fill="#6c0d10"/>
<rect x="72.33" y="155.68" width="10.19" height="2.33" fill="#32080a"/>
<rect x="82.22" y="155.68" width="10.19" height="2.33" fill="#600c0f"/>
<rect x="92.11" y="155.68" width="10.19" height="2.33" fill="#2b0809"/>
<rect x="13.00" y="157.71" width="10.19" height="2.33" fill="#135327"/>
<rect x="22.89" y="157.71" width="10.19" height="2.33" fill="#0a2312"/>
<rect x="32.78" y="157.71" width="10.19" height="2.33" fill="#208640"/>
<rect x="42.67" y="157.71" width="10.19" height="2.33" fill="#1f0708"/>
<rect x="52.56" y="157.71" width="10.19" height="2.33" fill="#760e11"/>
<rect x="62.44" y="157.71" width="10.19" height="2.33" fill="#280809"/>
<rect x="72.33" y="157.71" width="10.19" height="2.33" fill="#210708"/>
<rect x="82.22" y="157.71" width="10.19" height="2.33" fill="#270809"/>
<rect x="92.11" y="157.71" width="10.19" height="2.33" fill="#6e0d10"/>
<rect x="13.00" y="159.74" width="10.19" height="2.33" fill="#289547"/>
<rect x="22.89" y="159.74" width="10.19" height="2.33" fill="#2ea04c"/>
<rect x="32.78" y="159.74" width="10.19" height="2.33" fill="#1f843f"/>
<rect x="42.67" y="159.74" width="10.19" height="2.33" fill="#0a1f11"/>
<rect x="52.56" y="159.74" width="10.19" height="2.33" fill="#38090a"/>
<rect x="62.44" y="159.74" width="10.19" height="2.33" fill="#4b0a0c"/>
<rect x="72.33" y="159.74" width="10.19" height="2.33" fill="#104420"/>
<rect x="82.22" y="159.74" width="10.19" height="2.33" fill="#260809"/>
<rect x="92.11" y="159.74" width="10.19" height="2.33" fill="#5f0c0e"/>
<rect x="13.00" y="161.77" width="10.19" height="2.33" fill="#258f44"/>
<rect x="22.89" y="161.77" width="10.19" height="2.33" fill="#145729"/>
<rect x="32.78" y="161.77" width="10.19" height="2.33" fill="#0c2e17"/>
<rect x="42.67" y="161.77" width="10.19" height="2.33" fill="#130707"/>
<rect x="52.56" y="161.77" width="10.19" height="2.33" fill="#bf262b"/>
<rect x="62.44" y="161.77" width="10.19" height="2.33" fill="#570b0d"/>
<rect x="72.33" y="161.77" width="10.19" height="2.33" fill="#280809"/>
<rect x="82.22" y="161.77" width="10.19" height="2.33" fill="#560b0d"/>
<rect x="92.11" y="161.77" width="10.19" height="2.33" fill="#8c1115"/>
<rect x="13.00" y="163.80" width="10.19" height="2.33" fill="#208740"/>
<rect x="22.89" y="163.80" width="10.19" height="2.33" fill="#1e823e"/>
<rect x="32.78" y="163.80" width="10.19" height="2.33" fill="#0f3b1c"/>
<rect x="42.67" y="163.80" width="10.19" height="2.33" fill="#070e0a"/>
<rect x="52.56" y="163.80" width="10.19" height="2.33" fill="#530b0d"/>
<rect x="62.44" y="163.80" width="10.19" height="2.33" fill="#570b0d"/>
<rect x="72.33" y="163.80" width="10.19" height="2.33" fill="#440a0b"/>
<rect x="82.22" y="163.80" width="10.19" height="2.33" fill="#9b161b"/>
<rect x="92.11" y="163.80" width="10.19" height="2.33" fill="#40090b"/>
<rect x="13.00" y="165.83" width="10.19" height="2.33" fill="#2b9b4a"/>
<rect x="22.89" y="165.83" width="10.19" height="2.33" fill="#165d2c"/>
<rect x="32.78" y="165.83" width="10.19" height="2.33" fill="#0e391c"/>
<rect x="42.67" y="165.83" width="10.19" height="2.33" fill="#0e3a1c"/>
<rect x="52.56" y="165.83" width="10.19" height="2.33" fill="#1a0707"/>
<rect x="62.44" y="165.83" width="10.19" height="2.33" fill="#08150c"/>
<rect x="72.33" y="165.83" width="10.19" height="2.33" fill="#060d09"/>
<rect x="82.22" y="165.83" width="10.19" height="2.33" fill="#3f090b"/>
<rect x="92.11" y="165.83" width="10.19" height="2.33" fill="#8c1115"/>
<rect x="13.00" y="167.86" width="10.19" height="2.33" fill="#17612e"/>
<rect x="22.89" y="167.86" width="10.19" height="2.33" fill="#176530"/>
<rect x="32.78" y="167.86" width="10.19" height="2.33" fill="#248d43"/>
<rect x="42.67" y="167.86" width="10.19" height="2.33" fill="#590b0e"/>
<rect x="52.56" y="167.86" width="10.19" height="2.33" fill="#810f13"/>
<rect x="62.44" y="167.86" width="10.19" height="2.33" fill="#4c0a0c"/>
<rect x="72.33" y="167.86" width="10.19" height="2.33" fill="#680d10"/>
<rect x="82.22" y="167.86" width="10.19" height="2.33" fill="#560b0d"/>
<rect x="92.11" y="167.86" width="10.19" height="2.33" fill="#35090a"/>
<rect x="13.00" y="169.89" width="10.19" height="2.33" fill="#0b2513"/>
<rect x="22.89" y="169.89" width="10.19" height="2.33" fill="#134f26"/>
<rect x="32.78" y="169.89" width="10.19" height="2.33" fill="#114923"/>
<rect x="42.67" y="169.89" width="10.19" height="2.33" fill="#4c0a0c"/>
<rect x="52.56" y="169.89" width="10.19" height="2.33" fill="#881014"/>
<rect x="62.44" y="169.89" width="10.19" height="2.33" fill="#460a0b"/>
<rect x="72.33" y="169.89" width="10.19" height="2.33" fill="#260809"/>
<rect x="82.22" y="169.89" width="10.19" height="2.33" fill="#190707"/>
<rect x="92.11" y="169.89" width="10.19" height="2.33" fill="#270809"/>
<rect x="13.00" y="171.92" width="10.19" height="2.33" fill="#258f44"/>
<rect x="22.89" y="171.92" width="10.19" height="2.33" fill="#1b7437"/>
<rect x="32.78" y="171.92" width="10.19" height="2.33" fill="#4fbf5e"/>
<rect x="42.67" y="171.92" width="10.19" height="2.33" fill="#260809"/>
<rect x="52.56" y="171.92" width="10.19" height="2.33" fill="#981519"/>
<rect x="62.44" y="171.92" width="10.19" height="2.33" fill="#9b161a"/>
<rect x="72.33" y="171.92" width="10.19" height="2.33" fill="#1d0708"/>
<rect x="82.22" y="171.92" width="10.19" height="2.33" fill="#530b0d"/>
<rect x="92.11" y="171.92" width="10.19" height="2.33" fill="#a4191e"/>
<rect x="13.00" y="173.95" width="10.19" height="2.33" fill="#5d0c0e"/>
<rect x="22.89" y="173.95" width="10.19" height="2.33" fill="#6e0d10"/>
<rect x="32.78" y="173.95" width="10.19" height="2.33" fill="#460a0b"/>
<rect x="42.67" y="173.95" width="10.19" height="2.33" fill="#186631"/>
<rect x="52.56" y="173.95" width="10.19" height="2.33" fill="#1d7d3c"/>
<rect x="62.44" y="173.95" width="10.19" height="2.33" fill="#0e391b"/>
<rect x="72.33" y="173.95" width="10.19" height="2.33" fill="#891014"/>
<rect x="82.22" y="173.95" width="10.19" height="2.33" fill="#9e171b"/>
<rect x="92.11" y="173.95" width="10.19" height="2.33" fill="#38090a"/>
<rect x="13.00" y="175.98" width="10.19" height="2.33" fill="#640c0f"/>
<rect x="22.89" y="175.98" width="10.19" height="2.33" fill="#540b0d"/>
<rect x="32.78" y="175.98" width="10.19" height="2.33" fill="#4d0a0c"/>
<rect x="42.67" y="175.98" width="10.19" height="2.33" fill="#16612e"/>
<rect x="52.56" y="175.98" width="10.19" height="2.33" fill="#30a54e"/>
<rect x="62.44" y="175.98" width="10.19" height="2.33" fill="#0b2815"/>
<rect x="72.33" y="175.98" width="10.19" height="2.33" fill="#104320"/>
<rect x="82.22" y="175.98" width="10.19" height="2.33" fill="#0e3a1c"/>
<rect x="92.11" y="175.98" width="10.19" height="2.33" fill="#0a2312"/>
<rect x="13.00" y="178.01" width="10.19" height="2.33" fill="#4e0a0c"/>
<rect x="22.89" y="178.01" width="10.19" height="2.33" fill="#570b0d"/>
<rect x="32.78" y="178.01" width="10.19" height="2.33" fill="#891014"/>
<rect x="42.67" y="178.01" width="10.19" height="2.33" fill="#196a33"/>
<rect x="52.56" y="178.01" width="10.19" height="2.33" fill="#186932"/>
<rect x="62.44" y="178.01" width="10.19" height="2.33" fill="#070f0a"/>
<rect x="72.33" y="178.01" width="10.19" height="2.33" fill="#39090a"/>
<rect x="82.22" y="178.01" width="10.19" height="2.33" fill="#0d3319"/>
<rect x="92.11" y="178.01" width="10.19" height="2.33" fill="#8e1115"/>
<rect x="13.00" y="180.04" width="10.19" height="2.33" fill="#a5191e"/>
<rect x="22.89" y="180.04" width="10.19" height="2.33" fill="#a4191e"/>
<rect x="32.78" y="180.04" width="10.19" height="2.33" fill="#ab1b20"/>
<rect x="42.67" y="180.04" width="10.19" height="2.33" fill="#34a951"/>
<rect x="52.56" y="180.04" width="10.19" height="2.33" fill="#55c461"/>
<rect x="62.44" y="180.04" width="10.19" height="2.33" fill="#1e823e"/>
<rect x="72.33" y="180.04" width="10.19" height="2.33" fill="#560b0d"/>
<rect x="82.22" y="180.04" width="10.19" height="2.33" fill="#0c2f17"/>
<rect x="92.11" y="180.04" width="10.19" height="2.33" fill="#091b0f"/>
<rect x="13.00" y="182.07" width="10.19" height="2.33" fill="#570b0d"/>
<rect x="22.89" y="182.07" width="10.19" height="2.33" fill="#5f0c0e"/>
<rect x="32.78" y="182.07" width="10.19" height="2.33" fill="#4f0a0c"/>
<rect x="42.67" y="182.07" width="10.19" height="2.33" fill="#45b759"/>
<rect x="52.56" y="182.07" width="10.19" height="2.33" fill="#40b457"/>
<rect x="62.44" y="182.07" width="10.19" height="2.33" fill="#20853f"/>
<rect x="72.33" y="182.07" width="10.19" height="2.33" fill="#070d09"/>
<rect x="82.22" y="182.07" width="10.19" height="2.33" fill="#060a08"/>
<rect x="92.11" y="182.07" width="10.19" height="2.33" fill="#3e090b"/>
<rect x="13.00" y="184.10" width="10.19" height="2.33" fill="#790e12"/>
<rect x="22.89" y="184.10" width="10.19" height="2.33" fill="#260809"/>
<rect x="32.78" y="184.10" width="10.19" height="2.33" fill="#b21d23"/>
<rect x="42.67" y="184.10" width="10.19" height="2.33" fill="#1a6e35"/>
<rect x="52.56" y="184.10" width="10.19" height="2.33" fill="#17612e"/>
<rect x="62.44" y="184.10" width="10.19" height="2.33" fill="#07120b"/>
<rect x="72.33" y="184.10" width="10.19" height="2.33" fill="#0d351a"/>
<rect x="82.22" y="184.10" width="10.19" height="2.33" fill="#0e0606"/>
<rect x="92.11" y="184.10" width="10.19" height="2.33" fill="#0c0606"/>
<rect x="13.00" y="186.13" width="10.19" height="2.33" fill="#091b0f"/>
<rect x="22.89" y="186.13" width="10.19" height="2.33" fill="#37090a"/>
<rect x="32.78" y="186.13" width="10.19" height="2.33" fill="#38090a"/>
<rect x="42.67" y="186.13" width="10.19" height="2.33" fill="#186832"/>
<rect x="52.56" y="186.13" width="10.19" height="2.33" fill="#1b7638"/>
<rect x="62.44" y="186.13" width="10.19" height="2.33" fill="#091b0f"/>
<rect x="72.33" y="186.13" width="10.19" height="2.33" fill="#440a0b"/>
<rect x="82.22" y="186.13" width="10.19" height="2.33" fill="#590b0e"/>
<rect x="92.11" y="186.13" width="10.19" height="2.33" fill="#35090a"/>
<rect x="13.00" y="188.16" width="10.19" height="2.33" fill="#a4191e"/>
<rect x="22.89" y="188.16" width="10.19" height="2.33" fill="#730e11"/>
<rect x="32.78" y="188.16" width="10.19" height="2.33" fill="#740e11"/>
<rect x="42.67" y="188.16" width="10.19" height="2.33" fill="#34aa51"/>
<rect x="52.56" y="188.16" width="10.19" height="2.33" fill="#34a951"/>
<rect x="62.44" y="188.16" width="10.19" height="2.33" fill="#165f2d"/>
<rect x="72.33" y="188.16" width="10.19" height="2.33" fill="#500a0d"/>
<rect x="82.22" y="188.16" width="10.19" height="2.33" fill="#200708"/>
<rect x="92.11" y="188.16" width="10.19" height="2.33" fill="#38090a"/>
<rect x="13.00" y="190.19" width="10.19" height="2.33" fill="#530b0d"/>
<rect x="22.89" y="190.19" width="10.19" height="2.33" fill="#6b0d10"/>
<rect x="32.78" y="190.19" width="10.19" height="2.33" fill="#660c0f"/>
<rect x="42.67" y="190.19" width="10.19" height="2.33" fill="#186731"/>
<rect x="52.56" y="190.19" width="10.19" height="2.33" fill="#1d7f3d"/>
<rect x="62.44" y="190.19" width="10.19" height="2.33" fill="#0e361a"/>
<rect x="72.33" y="190.19" width="10.19" height="2.33" fill="#3b090a"/>
<rect x="82.22" y="190.19" width="10.19" height="2.33" fill="#150707"/>
<rect x="92.11" y="190.19" width="10.19" height="2.33" fill="#0c2b16"/>
<rect x="13.00" y="192.22" width="10.19" height="2.33" fill="#871014"/>
<rect x="22.89" y="192.22" width="10.19" height="2.33" fill="#550b0d"/>
<rect x="32.78" y="192.22" width="10.19" height="2.33" fill="#660d0f"/>
<rect x="42.67" y="192.22" width="10.19" height="2.33" fill="#16602d"/>
<rect x="52.56" y="192.22" width="10.19" height="2.33" fill="#15582a"/>
<rect x="62.44" y="192.22" width="10.19" height="2.33" fill="#176530"/>
<rect x="72.33" y="192.22" width="10.19" height="2.33" fill="#210708"/>
<rect x="82.22" y="192.22" width="10.19" height="2.33" fill="#0f3f1e"/>
<rect x="92.11" y="192.22" width="10.19" height="2.33" fill="#6a0d10"/>
<rect x="13.00" y="194.25" width="10.19" height="2.33" fill="#6f0d11"/>
<rect x="22.89" y="194.25" width="10.19" height="2.33" fill="#871014"/>
<rect x="32.78" y="194.25" width="10.19" height="2.33" fill="#060c09"/>
<rect x="42.67" y="194.25" width="10.19" height="2.33" fill="#1a7236"/>
<rect x="52.56" y="194.25" width="10.19" height="2.33" fill="#155b2b"/>
<rect x="62.44" y="194.25" width="10.19" height="2.33" fill="#0d341a"/>
<rect x="72.33" y="194.25" width="10.19" height="2.33" fill="#08170d"/>
<rect x="82.22" y="194.25" width="10.19" height="2.33" fill="#5b0b0e"/>
<rect x="92.11" y="194.25" width="10.19" height="2.33" fill="#150707"/>
<rect x="13.00" y="196.28" width="10.19" height="2.33" fill="#5a0b0e"/>
<rect x="22.89" y="196.28" width="10.19" height="2.33" fill="#110607"/>
<rect x="32.78" y="196.28" width="10.19" height="2.33" fill="#3b090a"/>
<rect x="42.67" y="196.28" width="10.19" height="2.33" fill="#0f3c1d"/>
<rect x="52.56" y="196.28" width="10.19" height="2.33" fill="#1b7337"/>
<rect x="62.44" y="196.28" width="10.19" height="2.33" fill="#196d34"/>
<rect x="72.33" y="196.28" width="10.19" height="2.33" fill="#155b2b"/>
<rect x="82.22" y="196.28" width="10.19" height="2.33" fill="#120607"/>
<rect x="92.11" y="196.28" width="10.19" height="2.33" fill="#130707"/>
<rect x="13.00" y="198.31" width="10.19" height="2.33" fill="#620c0f"/>
<rect x="22.89" y="198.31" width="10.19" height="2.33" fill="#091e10"/>
<rect x="32.78" y="198.31" width="10.19" height="2.33" fill="#450a0b"/>
<rect x="42.67" y="198.31" width="10.19" height="2.33" fill="#114922"/>
<rect x="52.56" y="198.31" width="10.19" height="2.33" fill="#155c2b"/>
<rect x="62.44" y="198.31" width="10.19" height="2.33" fill="#091b0f"/>
<rect x="72.33" y="198.31" width="10.19" height="2.33" fill="#0f3e1e"/>
<rect x="82.22" y="198.31" width="10.19" height="2.33" fill="#260809"/>
<rect x="92.11" y="198.31" width="10.19" height="2.33" fill="#480a0c"/>
<rect x="13.00" y="200.34" width="10.19" height="2.33" fill="#a4191e"/>
<rect x="22.89" y="200.34" width="10.19" height="2.33" fill="#a91a20"/>
<rect x="32.78" y="200.34" width="10.19" height="2.33" fill="#99151a"/>
<rect x="42.67" y="200.34" width="10.19" height="2.33" fill="#1a7136"/>
<rect x="52.56" y="200.34" width="10.19" height="2.33" fill="#37ac52"/>
<rect x="62.44" y="200.34" width="10.19" height="2.33" fill="#16602e"/>
<rect x="72.33" y="200.34" width="10.19" height="2.33" fill="#0a0606"/>
<rect x="82.22" y="200.34" width="10.19" height="2.33" fill="#0e0606"/>
<rect x="92.11" y="200.34" width="10.19" height="2.33" fill="#08160d"/>
<rect x="13.00" y="202.37" width="10.19" height="2.33" fill="#260809"/>
<rect x="22.89" y="202.37" width="10.19" height="2.33" fill="#2b0809"/>
<rect x="32.78" y="202.37" width="10.19" height="2.33" fill="#570b0d"/>
<rect x="42.67" y="202.37" width="10.19" height="2.33" fill="#208640"/>
<rect x="52.56" y="202.37" width="10.19" height="2.33" fill="#1b7538"/>
<rect x="62.44" y="202.37" width="10.19" height="2.33" fill="#0a2111"/>
<rect x="72.33" y="202.37" width="10.19" height="2.33" fill="#4b0a0c"/>
<rect x="82.22" y="202.37" width="10.19" height="2.33" fill="#0b0606"/>
<rect x="92.11" y="202.37" width="10.19" height="2.33" fill="#0f3c1d"/>
<rect x="13.00" y="204.40" width="10.19" height="2.33" fill="#7e0f13"/>
<rect x="22.89" y="204.40" width="10.19" height="2.33" fill="#7c0f12"/>
<rect x="32.78" y="204.40" width="10.19" height="2.33" fill="#7a0e12"/>
<rect x="42.67" y="204.40" width="10.19" height="2.33" fill="#279446"/>
<rect x="52.56" y="204.40" width="10.19" height="2.33" fill="#289547"/>
<rect x="62.44" y="204.40" width="10.19" height="2.33" fill="#165e2c"/>
<rect x="72.33" y="204.40" width="10.19" height="2.33" fill="#110607"/>
<rect x="82.22" y="204.40" width="10.19" height="2.33" fill="#0d3018"/>
<rect x="92.11" y="204.40" width="10.19" height="2.33" fill="#40090b"/>
<rect x="13.00" y="206.43" width="10.19" height="2.33" fill="#4c0a0c"/>
<rect x="22.89" y="206.43" width="10.19" height="2.33" fill="#570b0d"/>
<rect x="32.78" y="206.43" width="10.19" height="2.33" fill="#470a0c"/>
<rect x="42.67" y="206.43" width="10.19" height="2.33" fill="#218841"/>
<rect x="52.56" y="206.43" width="10.19" height="2.33" fill="#1c7b3a"/>
<rect x="62.44" y="206.43" width="10.19" height="2.33" fill="#0e3a1c"/>
<rect x="72.33" y="206.43" width="10.19" height="2.33" fill="#124e25"/>
<rect x="82.22" y="206.43" width="10.19" height="2.33" fill="#0e391b"/>
<rect x="92.11" y="206.43" width="10.19" height="2.33" fill="#060a08"/>
<rect x="13.00" y="208.46" width="10.19" height="2.33" fill="#6f0d10"/>
<rect x="22.89" y="208.46" width="10.19" height="2.33" fill="#600c0f"/>
<rect x="32.78" y="208.46" width="10.19" height="2.33" fill="#6a0d10"/>
<rect x="42.67" y="208.46" width="10.19" height="2.33" fill="#218740"/>
<rect x="52.56" y="208.46" width="10.19" height="2.33" fill="#228941"/>
<rect x="62.44" y="208.46" width="10.19" height="2.33" fill="#15582a"/>
<rect x="72.33" y="208.46" width="10.19" height="2.33" fill="#1d0708"/>
<rect x="82.22" y="208.46" width="10.19" height="2.33" fill="#0c0606"/>
<rect x="92.11" y="208.46" width="10.19" height="2.33" fill="#0d341a"/>
<rect x="13.00" y="210.49" width="10.19" height="2.33" fill="#5b0b0e"/>
<rect x="22.89" y="210.49" width="10.19" height="2.33" fill="#580b0e"/>
<rect x="32.78" y="210.49" width="10.19" height="2.33" fill="#570b0d"/>
<rect x="42.67" y="210.49" width="10.19" height="2.33" fill="#0e361a"/>
<rect x="52.56" y="210.49" width="10.19" height="2.33" fill="#59c763"/>
<rect x="62.44" y="210.49" width="10.19" height="2.33" fill="#15592a"/>
<rect x="72.33" y="210.49" width="10.19" height="2.33" fill="#1a7136"/>
<rect x="82.22" y="210.49" width="10.19" height="2.33" fill="#08140c"/>
<rect x="92.11" y="210.49" width="10.19" height="2.33" fill="#560b0d"/>
<rect x="13.00" y="212.52" width="10.19" height="2.33" fill="#140707"/>
<rect x="22.89" y="212.52" width="10.19" height="2.33" fill="#1b0708"/>
<rect x="32.78" y="212.52" width="10.19" height="2.33" fill="#0e371b"/>
<rect x="42.67" y="212.52" width="10.19" height="2.33" fill="#165f2d"/>
<rect x="52.56" y="212.52" width="10.19" height="2.33" fill="#1d7d3c"/>
<rect x="62.44" y="212.52" width="10.19" height="2.33" fill="#124c24"/>
<rect x="72.33" y="212.52" width="10.19" height="2.33" fill="#0b2814"/>
<rect x="82.22" y="212.52" width="10.19" height="2.33" fill="#0d0606"/>
<rect x="92.11" y="212.52" width="10.19" height="2.33" fill="#0b2814"/>
<rect x="13.00" y="214.55" width="10.19" height="2.33" fill="#6a0d10"/>
<rect x="22.89" y="214.55" width="10.19" height="2.33" fill="#5e0c0e"/>
<rect x="32.78" y="214.55" width="10.19" height="2.33" fill="#810f13"/>
<rect x="42.67" y="214.55" width="10.19" height="2.33" fill="#2d9f4c"/>
<rect x="52.56" y="214.55" width="10.19" height="2.33" fill="#279346"/>
<rect x="62.44" y="214.55" width="10.19" height="2.33" fill="#114722"/>
<rect x="72.33" y="214.55" width="10.19" height="2.33" fill="#17642f"/>
<rect x="82.22" y="214.55" width="10.19" height="2.33" fill="#104420"/>
<rect x="92.11" y="214.55" width="10.19" height="2.33" fill="#091e10"/>
<rect x="13.00" y="216.58" width="10.19" height="2.33" fill="#7a0e12"/>
<rect x="22.89" y="216.58" width="10.19" height="2.33" fill="#550b0d"/>
<rect x="32.78" y="216.58" width="10.19" height="2.33" fill="#640c0f"/>
<rect x="42.67" y="216.58" width="10.19" height="2.33" fill="#3db155"/>
<rect x="52.56" y="216.58" width="10.19" height="2.33" fill="#4abb5b"/>
<rect x="62.44" y="216.58" width="10.19" height="2.33" fill="#17642f"/>
<rect x="72.33" y="216.58" width="10.19" height="2.33" fill="#114a23"/>
<rect x="82.22" y="216.58" width="10.19" height="2.33" fill="#1c793a"/>
<rect x="92.11" y="216.58" width="10.19" height="2.33" fill="#135026"/>
<rect x="13.00" y="218.61" width="10.19" height="2.33" fill="#911217"/>
<rect x="22.89" y="218.61" width="10.19" height="2.33" fill="#99151a"/>
<rect x="32.78" y="218.61" width="10.19" height="2.33" fill="#911216"/>
<rect x="42.67" y="218.61" width="10.19" height="2.33" fill="#0a1f11"/>
<rect x="52.56" y="218.61" width="10.19" height="2.33" fill="#165d2c"/>
<rect x="62.44" y="218.61" width="10.19" height="2.33" fill="#104420"/>
<rect x="72.33" y="218.61" width="10.19" height="2.33" fill="#0c2c16"/>
<rect x="82.22" y="218.61" width="10.19" height="2.33" fill="#1d7f3c"/>
<rect x="92.11" y="218.61" width="10.19" height="2.33" fill="#15582a"/>
<rect x="13.00" y="220.64" width="10.19" height="2.33" fill="#500a0c"/>
<rect x="22.89" y="220.64" width="10.19" height="2.33" fill="#180707"/>
<rect x="32.78" y="220.64" width="10.19" height="2.33" fill="#200708"/>
<rect x="42.67" y="220.64" width="10.19" height="2.33" fill="#30a44e"/>
<rect x="52.56" y="220.64" width="10.19" height="2.33" fill="#2ea04c"/>
<rect x="62.44" y="220.64" width="10.19" height="2.33" fill="#155a2b"/>
<rect x="72.33" y="220.64" width="10.19" height="2.33" fill="#135227"/>
<rect x="82.22" y="220.64" width="10.19" height="2.33" fill="#10421f"/>
<rect x="92.11" y="220.64" width="10.19" height="2.33" fill="#135026"/>
<rect x="13.00" y="222.67" width="10.19" height="2.33" fill="#4a0a0c"/>
<rect x="22.89" y="222.67" width="10.19" height="2.33" fill="#4b0a0c"/>
<rect x="32.78" y="222.67" width="10.19" height="2.33" fill="#5f0c0e"/>
<rect x="42.67" y="222.67" width="10.19" height="2.33" fill="#269145"/>
<rect x="52.56" y="222.67" width="10.19" height="2.33" fill="#2a9949"/>
<rect x="62.44" y="222.67" width="10.19" height="2.33" fill="#10411f"/>
<rect x="72.33" y="222.67" width="10.19" height="2.33" fill="#2a9849"/>
<rect x="82.22" y="222.67" width="10.19" height="2.33" fill="#218740"/>
<rect x="92.11" y="222.67" width="10.19" height="2.33" fill="#228a42"/>
<rect x="13.00" y="224.70" width="10.19" height="2.33" fill="#600c0f"/>
<rect x="22.89" y="224.70" width="10.19" height="2.33" fill="#3f090b"/>
<rect x="32.78" y="224.70" width="10.19" height="2.33" fill="#530b0d"/>
<rect x="42.67" y="224.70" width="10.19" height="2.33" fill="#0b2714"/>
<rect x="52.56" y="224.70" width="10.19" height="2.33" fill="#0c2b16"/>
<rect x="62.44" y="224.70" width="10.19" height="2.33" fill="#0c2d17"/>
<rect x="72.33" y="224.70" width="10.19" height="2.33" fill="#196e34"/>
<rect x="82.22" y="224.70" width="10.19" height="2.33" fill="#145528"/>
<rect x="92.11" y="224.70" width="10.19" height="2.33" fill="#176430"/>
<rect x="13.00" y="226.73" width="10.19" height="2.33" fill="#911217"/>
<rect x="22.89" y="226.73" width="10.19" height="2.33" fill="#99151a"/>
<rect x="32.78" y="226.73" width="10.19" height="2.33" fill="#891014"/>
<rect x="42.67" y="226.73" width="10.19" height="2.33" fill="#36ab52"/>
<rect x="52.56" y="226.73" width="10.19" height="2.33" fill="#31a74f"/>
<rect x="62.44" y="226.73" width="10.19" height="2.33" fill="#218841"/>
<rect x="72.33" y="226.73" width="10.19" height="2.33" fill="#2b9b4a"/>
<rect x="82.22" y="226.73" width="10.19" height="2.33" fill="#114a23"/>
<rect x="92.11" y="226.73" width="10.19" height="2.33" fill="#289547"/>
<rect x="13.00" y="228.76" width="10.19" height="2.33" fill="#6f0d11"/>
<rect x="22.89" y="228.76" width="10.19" height="2.33" fill="#40090b"/>
<rect x="32.78" y="228.76" width="10.19" height="2.33" fill="#720e11"/>
<rect x="42.67" y="228.76" width="10.19" height="2.33" fill="#070e0a"/>
<rect x="52.56" y="228.76" width="10.19" height="2.33" fill="#0f3d1d"/>
<rect x="62.44" y="228.76" width="10.19" height="2.33" fill="#2c0809"/>
<rect x="72.33" y="228.76" width="10.19" height="2.33" fill="#135126"/>
<rect x="82.22" y="228.76" width="10.19" height="2.33" fill="#0f401f"/>
<rect x="92.11" y="228.76" width="10.19" height="2.33" fill="#165e2c"/>
<rect x="13.00" y="230.79" width="10.19" height="2.33" fill="#6f0d10"/>
<rect x="22.89" y="230.79" width="10.19" height="2.33" fill="#650c0f"/>
<rect x="32.78" y="230.79" width="10.19" height="2.33" fill="#5f0c0f"/>
<rect x="42.67" y="230.79" width="10.19" height="2.33" fill="#196a32"/>
<rect x="52.56" y="230.79" width="10.19" height="2.33" fill="#124e25"/>
<rect x="62.44" y="230.79" width="10.19" height="2.33" fill="#300809"/>
<rect x="72.33" y="230.79" width="10.19" height="2.33" fill="#1e833e"/>
<rect x="82.22" y="230.79" width="10.19" height="2.33" fill="#228a42"/>
<rect x="92.11" y="230.79" width="10.19" height="2.33" fill="#49ba5b"/>
<rect x="13.00" y="232.82" width="10.19" height="2.33" fill="#780e12"/>
<rect x="22.89" y="232.82" width="10.19" height="2.33" fill="#851013"/>
<rect x="32.78" y="232.82" width="10.19" height="2.33" fill="#790e12"/>
<rect x="42.67" y="232.82" width="10.19" height="2.33" fill="#1d7d3c"/>
<rect x="52.56" y="232.82" width="10.19" height="2.33" fill="#1c7b3b"/>
<rect x="62.44" y="232.82" width="10.19" height="2.33" fill="#124d24"/>
<rect x="72.33" y="232.82" width="10.19" height="2.33" fill="#196b33"/>
<rect x="82.22" y="232.82" width="10.19" height="2.33" fill="#269045"/>
<rect x="92.11" y="232.82" width="10.19" height="2.33" fill="#0f3d1d"/>
<rect x="13.00" y="234.85" width="10.19" height="2.33" fill="#3b090a"/>
<rect x="22.89" y="234.85" width="10.19" height="2.33" fill="#200708"/>
<rect x="32.78" y="234.85" width="10.19" height="2.33" fill="#480a0c"/>
<rect x="42.67" y="234.85" width="10.19" height="2.33" fill="#2b9a49"/>
<rect x="52.56" y="234.85" width="10.19" height="2.33" fill="#55c461"/>
<rect x="62.44" y="234.85" width="10.19" height="2.33" fill="#20853f"/>
<rect x="72.33" y="234.85" width="10.19" height="2.33" fill="#0f411f"/>
<rect x="82.22" y="234.85" width="10.19" height="2.33" fill="#165f2d"/>
<rect x="92.11" y="234.85" width="10.19" height="2.33" fill="#1e813d"/>
<rect x="13.00" y="236.88" width="10.19" height="2.33" fill="#7e0f12"/>
<rect x="22.89" y="236.88" width="10.19" height="2.33" fill="#530b0d"/>
<rect x="32.78" y="236.88" width="10.19" height="2.33" fill="#1e0708"/>
<rect x="42.67" y="236.88" width="10.19" height="2.33" fill="#1f843f"/>
<rect x="52.56" y="236.88" width="10.19" height="2.33" fill="#2ea04c"/>
<rect x="62.44" y="236.88" width="10.19" height="2.33" fill="#0f3c1d"/>
<rect x="72.33" y="236.88" width="10.19" height="2.33" fill="#228b42"/>
<rect x="82.22" y="236.88" width="10.19" height="2.33" fill="#1a7136"/>
<rect x="92.11" y="236.88" width="10.19" height="2.33" fill="#0a2011"/>
<rect x="13.00" y="238.91" width="10.19" height="2.33" fill="#08160d"/>
<rect x="22.89" y="238.91" width="10.19" height="2.33" fill="#09190e"/>
<rect x="32.78" y="238.91" width="10.19" height="2.33" fill="#530b0d"/>
<rect x="42.67" y="238.91" width="10.19" height="2.33" fill="#30a34e"/>
<rect x="52.56" y="238.91" width="10.19" height="2.33" fill="#5bc964"/>
<rect x="62.44" y="238.91" width="10.19" height="2.33" fill="#2a9849"/>
<rect x="72.33" y="238.91" width="10.19" height="2.33" fill="#1e833e"/>
<rect x="82.22" y="238.91" width="10.19" height="2.33" fill="#31a54f"/>
<rect x="92.11" y="238.91" width="10.19" height="2.33" fill="#2b9b4a"/>
<rect x="13.00" y="240.94" width="10.19" height="2.33" fill="#8c1115"/>
<rect x="22.89" y="240.94" width="10.19" height="2.33" fill="#5f0c0f"/>
<rect x="32.78" y="240.94" width="10.19" height="2.33" fill="#730e11"/>
<rect x="42.67" y="240.94" width="10.19" height="2.33" fill="#091d10"/>
<rect x="52.56" y="240.94" width="10.19" height="2.33" fill="#0d351a"/>
<rect x="62.44" y="240.94" width="10.19" height="2.33" fill="#0e381b"/>
<rect x="72.33" y="240.94" width="10.19" height="2.33" fill="#0c2f17"/>
<rect x="82.22" y="240.94" width="10.19" height="2.33" fill="#0e361a"/>
<rect x="92.11" y="240.94" width="10.19" height="2.33" fill="#0f3f1e"/>
<rect x="13.00" y="242.97" width="10.19" height="2.33" fill="#270809"/>
<rect x="22.89" y="242.97" width="10.19" height="2.33" fill="#690d10"/>
<rect x="32.78" y="242.97" width="10.19" height="2.33" fill="#670d10"/>
<rect x="42.67" y="242.97" width="10.19" height="2.33" fill="#41b457"/>
<rect x="52.56" y="242.97" width="10.19" height="2.33" fill="#1d7f3c"/>
<rect x="62.44" y="242.97" width="10.19" height="2.33" fill="#135327"/>
<rect x="72.33" y="242.97" width="10.19" height="2.33" fill="#41b457"/>
<rect x="82.22" y="242.97" width="10.19" height="2.33" fill="#0e3a1c"/>
<rect x="92.11" y="242.97" width="10.19" height="2.33" fill="#17632f"/>
</g>
<text x="25.2" y="35.2" font-size="6.4" text-anchor="middle" textLength="16" lengthAdjust="spacingAndGlyphs" fill="#1a1a1a" stroke="#1a1a1a" stroke-width="0.22">CTRL</text>
<text x="51.7" y="32.1" font-size="6.5" text-anchor="middle" textLength="30.4" lengthAdjust="spacingAndGlyphs" fill="#1a1a1a" stroke="#1a1a1a" stroke-width="0.22">siCHAF1A</text>
<text x="51.5" y="39.0" font-size="6.5" text-anchor="middle" textLength="17" lengthAdjust="spacingAndGlyphs" fill="#1a1a1a" stroke="#1a1a1a" stroke-width="0.22">Day 5</text>
<text x="86.7" y="32.1" font-size="6.5" text-anchor="middle" textLength="30.4" lengthAdjust="spacingAndGlyphs" fill="#1a1a1a" stroke="#1a1a1a" stroke-width="0.22">siCHAF1A</text>
<text x="86.5" y="39.0" font-size="6.5" text-anchor="middle" textLength="21" lengthAdjust="spacingAndGlyphs" fill="#1a1a1a" stroke="#1a1a1a" stroke-width="0.22">Day 10</text>
<text x="57.9" y="254.8" font-size="6.5" text-anchor="middle" fill="#1a1a1a" stroke="#1a1a1a" stroke-width="0.24" textLength="55.8" lengthAdjust="spacingAndGlyphs">Relative log<tspan font-size="4.3" dy="1.5">2</tspan><tspan dy="-1.5"> signal</tspan></text>
<text x="58" y="262.6" font-size="6.5" text-anchor="middle" textLength="60" lengthAdjust="spacingAndGlyphs" fill="#1a1a1a" stroke="#1a1a1a" stroke-width="0.22">(row mean centered)</text>
<defs><linearGradient id="cb" x1="0" x2="1" y1="0" y2="0"><stop offset="0" stop-color="#6fd36f"/><stop offset="0.25" stop-color="#2ea048"/><stop offset="0.47" stop-color="#0c3a14"/><stop offset="0.5" stop-color="#050505"/><stop offset="0.55" stop-color="#3a0808"/><stop offset="0.75" stop-color="#b02228"/><stop offset="1" stop-color="#ff7070"/></linearGradient></defs>
<rect x="33.8" y="266.2" width="50" height="10.6" fill="url(#cb)"/>
<line x1="33.8" y1="277.1" x2="83.8" y2="277.1" stroke="#111" stroke-width="1.0"/>
<text x="34.1" y="285.8" font-size="7.0" text-anchor="middle" fill="#1a1a1a" stroke="#1a1a1a" stroke-width="0.2">−2</text>
<text x="45.6" y="285.8" font-size="7.0" text-anchor="middle" fill="#1a1a1a" stroke="#1a1a1a" stroke-width="0.2">−1</text>
<text x="58.7" y="285.8" font-size="7.0" text-anchor="middle" fill="#1a1a1a" stroke="#1a1a1a" stroke-width="0.2">0</text>
<text x="70.9" y="285.8" font-size="7.0" text-anchor="middle" fill="#1a1a1a" stroke="#1a1a1a" stroke-width="0.2">1</text>
<text x="83" y="285.8" font-size="7.0" text-anchor="middle" fill="#1a1a1a" stroke="#1a1a1a" stroke-width="0.2">2</text>
<text x="209.5" y="49.6" font-size="8.7" text-anchor="middle" textLength="76" lengthAdjust="spacingAndGlyphs" fill="#1a1a1a" stroke="#1a1a1a" stroke-width="0.3">Metabolic pathways</text>
<text x="414.2" y="49.8" font-size="8.7" text-anchor="middle" textLength="80.8" lengthAdjust="spacingAndGlyphs" fill="#1a1a1a" stroke="#1a1a1a" stroke-width="0.3">Oncogenic pathways</text>
<defs><filter id="blur" x="-5%" y="-5%" width="110%" height="110%"><feGaussianBlur stdDeviation="0.55"/></filter><filter id="sblur" x="-5%" y="-20%" width="110%" height="140%"><feGaussianBlur stdDeviation="0.35"/></filter></defs>
<defs><linearGradient id="rk1" x1="0" x2="1" y1="0" y2="0"><stop offset="0.000" stop-color="#d63c4c"/><stop offset="0.270" stop-color="#de4c5e"/><stop offset="0.330" stop-color="#e68ca0"/><stop offset="0.380" stop-color="#eec2d0"/><stop offset="0.460" stop-color="#eedee8"/><stop offset="0.560" stop-color="#e4e0f0"/><stop offset="0.650" stop-color="#d0cce8"/><stop offset="0.690" stop-color="#a09cd4"/><stop offset="0.720" stop-color="#7470c2"/><stop offset="0.860" stop-color="#5c5ab0"/><stop offset="0.950" stop-color="#444494"/><stop offset="1.000" stop-color="#2c2c66"/></linearGradient></defs>
<rect x="120.6" y="69.3" width="81.6" height="31.5" fill="none" stroke="#d6d6d6" stroke-width="0.6"/>
<line x1="120.6" y1="99.4" x2="202.2" y2="99.4" stroke="#e4d0d8" stroke-width="0.6"/>
<g filter="url(#sblur)">
<rect x="121.00" y="104.0" width="1.20" height="11.799999999999997" fill="#e6e6e6"/>
<rect x="122.70" y="104.0" width="1.20" height="11.799999999999997" fill="#d7d7d7"/>
<rect x="129.00" y="104.0" width="1.30" height="11.799999999999997" fill="#bebebe"/>
<rect x="130.30" y="104.0" width="1.20" height="11.799999999999997" fill="#969696"/>
<rect x="131.50" y="104.0" width="0.50" height="11.799999999999997" fill="#c8c8c8"/>
<rect x="135.30" y="104.0" width="2.20" height="11.799999999999997" fill="#d7d7d7"/>
<rect x="141.70" y="104.0" width="2.50" height="11.799999999999997" fill="#919191"/>
<rect x="144.70" y="104.0" width="2.50" height="11.799999999999997" fill="#878787"/>
<rect x="150.60" y="104.0" width="1.20" height="11.799999999999997" fill="#d2d2d2"/>
<rect x="153.50" y="104.0" width="1.70" height="11.799999999999997" fill="#dcdcdc"/>
<rect x="156.90" y="104.0" width="1.30" height="11.799999999999997" fill="#d7d7d7"/>
<rect x="168.00" y="104.0" width="0.90" height="11.799999999999997" fill="#bebebe"/>
<rect x="172.70" y="104.0" width="2.10" height="11.799999999999997" fill="#b4b4b4"/>
<rect x="175.70" y="104.0" width="1.20" height="11.799999999999997" fill="#bebebe"/>
<rect x="178.60" y="104.0" width="1.70" height="11.799999999999997" fill="#bebebe"/>
<rect x="184.10" y="104.0" width="1.30" height="11.799999999999997" fill="#bebebe"/>
<rect x="187.00" y="104.0" width="1.00" height="11.799999999999997" fill="#e6e6e6"/>
<rect x="193.80" y="104.0" width="0.90" height="11.799999999999997" fill="#c8c8c8"/>
</g>
<line x1="120.6" y1="104.0" x2="120.6" y2="119.4" stroke="#d6d6d6" stroke-width="0.6"/>
<line x1="202.2" y1="104.0" x2="202.2" y2="119.4" stroke="#d6d6d6" stroke-width="0.6"/>
<rect x="121" y="116.2" width="79.4" height="3.200000000000003" fill="url(#rk1)" filter="url(#sblur)"/>
<polyline points="120.8,89.2 122.2,85.5 123.2,83.0 124.4,81.3 126.3,82.5 128.7,78.2 129.9,79.4 131.1,75.2 132.7,71.2 134.8,74.6 136.8,73.4 139.0,76.4 140.2,74.6 142.0,78.8 143.3,74.0 145.1,72.8 146.9,71.0 153.6,77.6 164.5,92.8 173.6,102.0 177.8,98.0 180.0,100.3 182.5,96.3 184.6,101.0 189.2,92.7 191.8,97.3 194.7,92.7 199.8,99.4" fill="none" stroke="#c4e6b6" stroke-width="2.2" stroke-linejoin="round" opacity="0.8"/>
<polyline points="120.8,89.2 122.2,85.5 123.2,83.0 124.4,81.3 126.3,82.5 128.7,78.2 129.9,79.4 131.1,75.2 132.7,71.2 134.8,74.6 136.8,73.4 139.0,76.4 140.2,74.6 142.0,78.8 143.3,74.0 145.1,72.8 146.9,71.0 153.6,77.6 164.5,92.8 173.6,102.0 177.8,98.0 180.0,100.3 182.5,96.3 184.6,101.0 189.2,92.7 191.8,97.3 194.7,92.7 199.8,99.4" fill="none" stroke="#56a646" stroke-width="1.0" stroke-linejoin="round"/>
<text x="119.4" y="73.4" font-size="2.6" text-anchor="end" font-weight="bold" textLength="5.4" lengthAdjust="spacingAndGlyphs" fill="#262626" stroke="#262626" stroke-width="0.16">0.25</text>
<text x="119.4" y="78.56" font-size="2.6" text-anchor="end" font-weight="bold" textLength="5.4" lengthAdjust="spacingAndGlyphs" fill="#262626" stroke="#262626" stroke-width="0.16">0.20</text>
<text x="119.4" y="83.72" font-size="2.6" text-anchor="end" font-weight="bold" textLength="5.4" lengthAdjust="spacingAndGlyphs" fill="#262626" stroke="#262626" stroke-width="0.16">0.15</text>
<text x="119.4" y="88.88" font-size="2.6" text-anchor="end" font-weight="bold" textLength="5.4" lengthAdjust="spacingAndGlyphs" fill="#262626" stroke="#262626" stroke-width="0.16">0.10</text>
<text x="119.4" y="94.04" font-size="2.6" text-anchor="end" font-weight="bold" textLength="5.4" lengthAdjust="spacingAndGlyphs" fill="#262626" stroke="#262626" stroke-width="0.16">0.05</text>
<text x="119.4" y="99.2" font-size="2.6" text-anchor="end" font-weight="bold" textLength="5.4" lengthAdjust="spacingAndGlyphs" fill="#262626" stroke="#262626" stroke-width="0.16">0.00</text>
<text x="0" y="0" font-size="4.7" text-anchor="middle" fill="#383030" stroke="#383030" stroke-width="0.2" transform="translate(109.6,94.3) rotate(-90)" textLength="46" lengthAdjust="spacingAndGlyphs">Enrichment score (ES)</text>
<text x="161.7" y="63.6" font-size="6.2" text-anchor="middle" textLength="60.4" lengthAdjust="spacingAndGlyphs" fill="#1a1a1a" stroke="#1a1a1a" stroke-width="0.22">Glutamate metabolism</text>
<text x="125.0" y="97.6" font-size="6.7" textLength="29.8" lengthAdjust="spacingAndGlyphs" fill="#1a1a1a" stroke="#1a1a1a" stroke-width="0.25">FDR = 0.21</text>
<defs><linearGradient id="rk2" x1="0" x2="1" y1="0" y2="0"><stop offset="0.000" stop-color="#d63c4c"/><stop offset="0.278" stop-color="#de4c5e"/><stop offset="0.340" stop-color="#e68ca0"/><stop offset="0.383" stop-color="#eec2d0"/><stop offset="0.452" stop-color="#eedee8"/><stop offset="0.538" stop-color="#e4e0f0"/><stop offset="0.616" stop-color="#d0cce8"/><stop offset="0.650" stop-color="#a09cd4"/><stop offset="0.684" stop-color="#7470c2"/><stop offset="0.842" stop-color="#5c5ab0"/><stop offset="0.944" stop-color="#444494"/><stop offset="1.000" stop-color="#2c2c66"/></linearGradient></defs>
<rect x="218.7" y="70.2" width="85.5" height="32.2" fill="none" stroke="#d6d6d6" stroke-width="0.6"/>
<line x1="218.7" y1="100.8" x2="304.2" y2="100.8" stroke="#e4d0d8" stroke-width="0.6"/>
<g filter="url(#sblur)">
<rect x="221.50" y="106.0" width="1.70" height="11.799999999999997" fill="#919191"/>
<rect x="224.00" y="106.0" width="2.20" height="11.799999999999997" fill="#787878"/>
<rect x="228.70" y="106.0" width="1.50" height="11.799999999999997" fill="#969696"/>
<rect x="230.20" y="106.0" width="1.90" height="11.799999999999997" fill="#878787"/>
<rect x="233.80" y="106.0" width="2.50" height="11.799999999999997" fill="#b4b4b4"/>
<rect x="236.70" y="106.0" width="1.30" height="11.799999999999997" fill="#8c8c8c"/>
<rect x="238.80" y="106.0" width="1.30" height="11.799999999999997" fill="#b4b4b4"/>
<rect x="242.60" y="106.0" width="1.30" height="11.799999999999997" fill="#d2d2d2"/>
<rect x="245.60" y="106.0" width="1.30" height="11.799999999999997" fill="#b4b4b4"/>
<rect x="249.00" y="106.0" width="0.80" height="11.799999999999997" fill="#bebebe"/>
<rect x="252.80" y="106.0" width="1.30" height="11.799999999999997" fill="#828282"/>
<rect x="261.10" y="106.0" width="1.50" height="11.799999999999997" fill="#b4b4b4"/>
<rect x="263.00" y="106.0" width="1.60" height="11.799999999999997" fill="#bebebe"/>
<rect x="267.30" y="106.0" width="1.70" height="11.799999999999997" fill="#b4b4b4"/>
<rect x="269.60" y="106.0" width="1.70" height="11.799999999999997" fill="#aaaaaa"/>
<rect x="278.80" y="106.0" width="1.30" height="11.799999999999997" fill="#d7d7d7"/>
<rect x="288.50" y="106.0" width="1.40" height="11.799999999999997" fill="#b4b4b4"/>
</g>
<line x1="218.7" y1="106.0" x2="218.7" y2="120.7" stroke="#d6d6d6" stroke-width="0.6"/>
<line x1="304.2" y1="106.0" x2="304.2" y2="120.7" stroke="#d6d6d6" stroke-width="0.6"/>
<rect x="219" y="118.1" width="81.19999999999999" height="2.6000000000000085" fill="url(#rk2)" filter="url(#sblur)"/>
<polyline points="218.8,101.6 220.4,103.3 221.9,100.6 223.3,91.2 225.0,89.0 226.0,85.0 228.1,84.3 229.6,84.4 231.4,77.5 232.9,78.2 234.3,75.7 236.2,74.5 238.3,72.0 240.5,72.0 245.0,74.3 256.0,80.5 267.6,87.1 269.7,86.7 281.0,92.3 289.4,95.8 290.5,95.4 301.4,103.0" fill="none" stroke="#c4e6b6" stroke-width="2.2" stroke-linejoin="round" opacity="0.8"/>
<polyline points="218.8,101.6 220.4,103.3 221.9,100.6 223.3,91.2 225.0,89.0 226.0,85.0 228.1,84.3 229.6,84.4 231.4,77.5 232.9,78.2 234.3,75.7 236.2,74.5 238.3,72.0 240.5,72.0 245.0,74.3 256.0,80.5 267.6,87.1 269.7,86.7 281.0,92.3 289.4,95.8 290.5,95.4 301.4,103.0" fill="none" stroke="#56a646" stroke-width="1.0" stroke-linejoin="round"/>
<text x="217.5" y="71.3" font-size="2.6" text-anchor="end" font-weight="bold" textLength="5.4" lengthAdjust="spacingAndGlyphs" fill="#262626" stroke="#262626" stroke-width="0.16">0.6</text>
<text x="217.5" y="76.13" font-size="2.6" text-anchor="end" font-weight="bold" textLength="5.4" lengthAdjust="spacingAndGlyphs" fill="#262626" stroke="#262626" stroke-width="0.16">0.5</text>
<text x="217.5" y="80.97" font-size="2.6" text-anchor="end" font-weight="bold" textLength="5.4" lengthAdjust="spacingAndGlyphs" fill="#262626" stroke="#262626" stroke-width="0.16">0.4</text>
<text x="217.5" y="85.8" font-size="2.6" text-anchor="end" font-weight="bold" textLength="5.4" lengthAdjust="spacingAndGlyphs" fill="#262626" stroke="#262626" stroke-width="0.16">0.3</text>
<text x="217.5" y="90.63" font-size="2.6" text-anchor="end" font-weight="bold" textLength="5.4" lengthAdjust="spacingAndGlyphs" fill="#262626" stroke="#262626" stroke-width="0.16">0.2</text>
<text x="217.5" y="95.47" font-size="2.6" text-anchor="end" font-weight="bold" textLength="5.4" lengthAdjust="spacingAndGlyphs" fill="#262626" stroke="#262626" stroke-width="0.16">0.1</text>
<text x="217.5" y="100.3" font-size="2.6" text-anchor="end" font-weight="bold" textLength="5.4" lengthAdjust="spacingAndGlyphs" fill="#262626" stroke="#262626" stroke-width="0.16">0.0</text>
<text x="0" y="0" font-size="4.7" text-anchor="middle" fill="#383030" stroke="#383030" stroke-width="0.2" transform="translate(210.6,95.5) rotate(-90)" textLength="46" lengthAdjust="spacingAndGlyphs">Enrichment score (ES)</text>
<text x="259.6" y="60.0" font-size="6.2" text-anchor="middle" textLength="48.4" lengthAdjust="spacingAndGlyphs" fill="#1a1a1a" stroke="#1a1a1a" stroke-width="0.22">Valine leucine and</text>
<text x="259.0" y="66.8" font-size="6.2" text-anchor="middle" textLength="59" lengthAdjust="spacingAndGlyphs" fill="#1a1a1a" stroke="#1a1a1a" stroke-width="0.22">isoleucine degradation</text>
<text x="225.6" y="99.8" font-size="6.7" textLength="33.0" lengthAdjust="spacingAndGlyphs" fill="#1a1a1a" stroke="#1a1a1a" stroke-width="0.25">FDR &lt; 0.001</text>
<defs><linearGradient id="rk3" x1="0" x2="1" y1="0" y2="0"><stop offset="0.000" stop-color="#d63c4c"/><stop offset="0.327" stop-color="#de4c5e"/><stop offset="0.400" stop-color="#e68ca0"/><stop offset="0.442" stop-color="#eec2d0"/><stop offset="0.508" stop-color="#eedee8"/><stop offset="0.592" stop-color="#e4e0f0"/><stop offset="0.667" stop-color="#d0cce8"/><stop offset="0.700" stop-color="#a09cd4"/><stop offset="0.729" stop-color="#7470c2"/><stop offset="0.865" stop-color="#5c5ab0"/><stop offset="0.952" stop-color="#444494"/><stop offset="1.000" stop-color="#2c2c66"/></linearGradient></defs>
<rect x="120.3" y="132.2" width="81.00000000000001" height="33.30000000000001" fill="none" stroke="#d6d6d6" stroke-width="0.6"/>
<line x1="120.3" y1="133.6" x2="201.3" y2="133.6" stroke="#e4d0d8" stroke-width="0.6"/>
<g filter="url(#sblur)">
<rect x="120.50" y="167.8" width="0.90" height="11.799999999999983" fill="#f0f0f0"/>
<rect x="122.20" y="167.8" width="0.90" height="11.799999999999983" fill="#bebebe"/>
<rect x="124.30" y="167.8" width="1.30" height="11.799999999999983" fill="#969696"/>
<rect x="126.00" y="167.8" width="1.70" height="11.799999999999983" fill="#bebebe"/>
<rect x="129.40" y="167.8" width="0.90" height="11.799999999999983" fill="#969696"/>
<rect x="131.10" y="167.8" width="2.10" height="11.799999999999983" fill="#bebebe"/>
<rect x="135.30" y="167.8" width="0.90" height="11.799999999999983" fill="#969696"/>
<rect x="137.00" y="167.8" width="1.30" height="11.799999999999983" fill="#bebebe"/>
<rect x="140.00" y="167.8" width="1.70" height="11.799999999999983" fill="#969696"/>
<rect x="146.30" y="167.8" width="0.90" height="11.799999999999983" fill="#c8c8c8"/>
<rect x="148.00" y="167.8" width="2.10" height="11.799999999999983" fill="#9b9b9b"/>
<rect x="152.30" y="167.8" width="0.80" height="11.799999999999983" fill="#878787"/>
<rect x="155.20" y="167.8" width="0.90" height="11.799999999999983" fill="#dcdcdc"/>
<rect x="157.30" y="167.8" width="0.90" height="11.799999999999983" fill="#bebebe"/>
<rect x="161.70" y="167.8" width="2.10" height="11.799999999999983" fill="#969696"/>
<rect x="171.80" y="167.8" width="1.70" height="11.799999999999983" fill="#969696"/>
<rect x="174.40" y="167.8" width="0.80" height="11.799999999999983" fill="#bebebe"/>
<rect x="184.10" y="167.8" width="1.30" height="11.799999999999983" fill="#828282"/>
<rect x="186.20" y="167.8" width="0.90" height="11.799999999999983" fill="#b4b4b4"/>
<rect x="188.30" y="167.8" width="0.90" height="11.799999999999983" fill="#969696"/>
<rect x="190.50" y="167.8" width="1.20" height="11.799999999999983" fill="#828282"/>
<rect x="193.80" y="167.8" width="0.90" height="11.799999999999983" fill="#969696"/>
<rect x="196.00" y="167.8" width="1.20" height="11.799999999999983" fill="#828282"/>
<rect x="198.50" y="167.8" width="0.80" height="11.799999999999983" fill="#bebebe"/>
</g>
<line x1="120.3" y1="167.8" x2="120.3" y2="183.2" stroke="#d6d6d6" stroke-width="0.6"/>
<line x1="201.3" y1="167.8" x2="201.3" y2="183.2" stroke="#d6d6d6" stroke-width="0.6"/>
<rect x="120.6" y="180.0" width="79.6" height="3.1999999999999886" fill="url(#rk3)" filter="url(#sblur)"/>
<polyline points="120.5,135.4 122.6,134.4 124.7,134.8 126.7,133.4 129.8,134.0 133.0,132.8 135.0,133.4 137.0,135.4 145.3,140.6 153.6,144.7 161.9,149.9 170.2,155.1 175.3,158.2 183.6,165.8 185.7,162.3 187.7,160.2 189.5,159.5 191.9,155.1 194.0,153.0 196.0,146.8 197.4,142.7 198.0,137.5 200.1,133.4" fill="none" stroke="#c4e6b6" stroke-width="2.2" stroke-linejoin="round" opacity="0.8"/>
<polyline points="120.5,135.4 122.6,134.4 124.7,134.8 126.7,133.4 129.8,134.0 133.0,132.8 135.0,133.4 137.0,135.4 145.3,140.6 153.6,144.7 161.9,149.9 170.2,155.1 175.3,158.2 183.6,165.8 185.7,162.3 187.7,160.2 189.5,159.5 191.9,155.1 194.0,153.0 196.0,146.8 197.4,142.7 198.0,137.5 200.1,133.4" fill="none" stroke="#56a646" stroke-width="1.0" stroke-linejoin="round"/>
<text x="119.1" y="134.1" font-size="2.6" text-anchor="end" font-weight="bold" textLength="5.4" lengthAdjust="spacingAndGlyphs" fill="#262626" stroke="#262626" stroke-width="0.16">0.00</text>
<text x="119.1" y="138.01" font-size="2.6" text-anchor="end" font-weight="bold" textLength="5.4" lengthAdjust="spacingAndGlyphs" fill="#262626" stroke="#262626" stroke-width="0.16">-0.05</text>
<text x="119.1" y="141.92" font-size="2.6" text-anchor="end" font-weight="bold" textLength="5.4" lengthAdjust="spacingAndGlyphs" fill="#262626" stroke="#262626" stroke-width="0.16">-0.10</text>
<text x="119.1" y="145.84" font-size="2.6" text-anchor="end" font-weight="bold" textLength="5.4" lengthAdjust="spacingAndGlyphs" fill="#262626" stroke="#262626" stroke-width="0.16">-0.15</text>
<text x="119.1" y="149.75" font-size="2.6" text-anchor="end" font-weight="bold" textLength="5.4" lengthAdjust="spacingAndGlyphs" fill="#262626" stroke="#262626" stroke-width="0.16">-0.20</text>
<text x="119.1" y="153.66" font-size="2.6" text-anchor="end" font-weight="bold" textLength="5.4" lengthAdjust="spacingAndGlyphs" fill="#262626" stroke="#262626" stroke-width="0.16">-0.25</text>
<text x="119.1" y="157.58" font-size="2.6" text-anchor="end" font-weight="bold" textLength="5.4" lengthAdjust="spacingAndGlyphs" fill="#262626" stroke="#262626" stroke-width="0.16">-0.30</text>
<text x="119.1" y="161.49" font-size="2.6" text-anchor="end" font-weight="bold" textLength="5.4" lengthAdjust="spacingAndGlyphs" fill="#262626" stroke="#262626" stroke-width="0.16">-0.35</text>
<text x="119.1" y="165.4" font-size="2.6" text-anchor="end" font-weight="bold" textLength="5.4" lengthAdjust="spacingAndGlyphs" fill="#262626" stroke="#262626" stroke-width="0.16">-0.40</text>
<text x="0" y="0" font-size="4.7" text-anchor="middle" fill="#383030" stroke="#383030" stroke-width="0.2" transform="translate(110.3,157.7) rotate(-90)" textLength="46" lengthAdjust="spacingAndGlyphs">Enrichment score (ES)</text>
<text x="161.5" y="130.2" font-size="6.2" text-anchor="middle" textLength="63.5" lengthAdjust="spacingAndGlyphs" fill="#1a1a1a" stroke="#1a1a1a" stroke-width="0.22">Type II diabetes mellitus</text>
<text x="123.2" y="164.4" font-size="6.7" textLength="30.4" lengthAdjust="spacingAndGlyphs" fill="#1a1a1a" stroke="#1a1a1a" stroke-width="0.25">FDR = 0.09</text>
<defs><linearGradient id="rk4" x1="0" x2="1" y1="0" y2="0"><stop offset="0.000" stop-color="#d63c4c"/><stop offset="0.270" stop-color="#de4c5e"/><stop offset="0.330" stop-color="#e68ca0"/><stop offset="0.381" stop-color="#eec2d0"/><stop offset="0.464" stop-color="#eedee8"/><stop offset="0.566" stop-color="#e4e0f0"/><stop offset="0.659" stop-color="#d0cce8"/><stop offset="0.700" stop-color="#a09cd4"/><stop offset="0.729" stop-color="#7470c2"/><stop offset="0.865" stop-color="#5c5ab0"/><stop offset="0.952" stop-color="#444494"/><stop offset="1.000" stop-color="#2c2c66"/></linearGradient></defs>
<rect x="219.6" y="130.4" width="84.6" height="35.400000000000006" fill="none" stroke="#d6d6d6" stroke-width="0.6"/>
<line x1="219.6" y1="137.2" x2="304.2" y2="137.2" stroke="#e4d0d8" stroke-width="0.6"/>
<g filter="url(#sblur)">
<rect x="224.90" y="167.6" width="0.80" height="12.800000000000011" fill="#bebebe"/>
<rect x="228.30" y="167.6" width="1.70" height="12.800000000000011" fill="#969696"/>
<rect x="232.90" y="167.6" width="1.30" height="12.800000000000011" fill="#bebebe"/>
<rect x="240.10" y="167.6" width="1.30" height="12.800000000000011" fill="#bebebe"/>
<rect x="247.70" y="167.6" width="0.90" height="12.800000000000011" fill="#9b9b9b"/>
<rect x="255.80" y="167.6" width="0.80" height="12.800000000000011" fill="#bebebe"/>
<rect x="260.20" y="167.6" width="1.80" height="12.800000000000011" fill="#bebebe"/>
<rect x="262.90" y="167.6" width="1.70" height="12.800000000000011" fill="#bebebe"/>
<rect x="266.40" y="167.6" width="0.90" height="12.800000000000011" fill="#dcdcdc"/>
<rect x="277.00" y="167.6" width="0.90" height="12.800000000000011" fill="#bebebe"/>
<rect x="284.10" y="167.6" width="1.80" height="12.800000000000011" fill="#9b9b9b"/>
<rect x="286.80" y="167.6" width="0.80" height="12.800000000000011" fill="#bebebe"/>
<rect x="291.20" y="167.6" width="0.90" height="12.800000000000011" fill="#bebebe"/>
<rect x="298.30" y="167.6" width="0.90" height="12.800000000000011" fill="#bebebe"/>
</g>
<line x1="219.6" y1="167.6" x2="219.6" y2="184.2" stroke="#d6d6d6" stroke-width="0.6"/>
<line x1="304.2" y1="167.6" x2="304.2" y2="184.2" stroke="#d6d6d6" stroke-width="0.6"/>
<rect x="220" y="180.9" width="81.39999999999998" height="3.299999999999983" fill="url(#rk4)" filter="url(#sblur)"/>
<polyline points="220.4,137.6 221.9,139.7 224.0,138.6 225.4,140.7 227.1,136.5 229.2,137.0 230.2,130.9 232.3,132.8 233.7,132.0 235.4,134.0 239.5,136.5 247.8,141.7 256.2,146.9 264.5,152.1 272.8,157.3 276.9,159.4 280.0,162.5 283.1,164.6 284.8,165.6 286.3,162.5 287.7,160.4 288.6,157.4 290.5,159.0 292.3,155.5 295.0,158.4 296.5,156.4 299.6,160.0 302.2,153.7 302.4,136.6" fill="none" stroke="#c4e6b6" stroke-width="2.2" stroke-linejoin="round" opacity="0.8"/>
<polyline points="220.4,137.6 221.9,139.7 224.0,138.6 225.4,140.7 227.1,136.5 229.2,137.0 230.2,130.9 232.3,132.8 233.7,132.0 235.4,134.0 239.5,136.5 247.8,141.7 256.2,146.9 264.5,152.1 272.8,157.3 276.9,159.4 280.0,162.5 283.1,164.6 284.8,165.6 286.3,162.5 287.7,160.4 288.6,157.4 290.5,159.0 292.3,155.5 295.0,158.4 296.5,156.4 299.6,160.0 302.2,153.7 302.4,136.6" fill="none" stroke="#56a646" stroke-width="1.0" stroke-linejoin="round"/>
<text x="218.4" y="131.4" font-size="2.6" text-anchor="end" font-weight="bold" textLength="5.4" lengthAdjust="spacingAndGlyphs" fill="#262626" stroke="#262626" stroke-width="0.16">0.10</text>
<text x="218.4" y="134.85" font-size="2.6" text-anchor="end" font-weight="bold" textLength="5.4" lengthAdjust="spacingAndGlyphs" fill="#262626" stroke="#262626" stroke-width="0.16">0.05</text>
<text x="218.4" y="138.3" font-size="2.6" text-anchor="end" font-weight="bold" textLength="5.4" lengthAdjust="spacingAndGlyphs" fill="#262626" stroke="#262626" stroke-width="0.16">0.00</text>
<text x="218.4" y="141.75" font-size="2.6" text-anchor="end" font-weight="bold" textLength="5.4" lengthAdjust="spacingAndGlyphs" fill="#262626" stroke="#262626" stroke-width="0.16">-0.05</text>
<text x="218.4" y="145.2" font-size="2.6" text-anchor="end" font-weight="bold" textLength="5.4" lengthAdjust="spacingAndGlyphs" fill="#262626" stroke="#262626" stroke-width="0.16">-0.10</text>
<text x="218.4" y="148.65" font-size="2.6" text-anchor="end" font-weight="bold" textLength="5.4" lengthAdjust="spacingAndGlyphs" fill="#262626" stroke="#262626" stroke-width="0.16">-0.15</text>
<text x="218.4" y="152.1" font-size="2.6" text-anchor="end" font-weight="bold" textLength="5.4" lengthAdjust="spacingAndGlyphs" fill="#262626" stroke="#262626" stroke-width="0.16">-0.20</text>
<text x="218.4" y="155.55" font-size="2.6" text-anchor="end" font-weight="bold" textLength="5.4" lengthAdjust="spacingAndGlyphs" fill="#262626" stroke="#262626" stroke-width="0.16">-0.25</text>
<text x="218.4" y="159.0" font-size="2.6" text-anchor="end" font-weight="bold" textLength="5.4" lengthAdjust="spacingAndGlyphs" fill="#262626" stroke="#262626" stroke-width="0.16">-0.30</text>
<text x="218.4" y="162.45" font-size="2.6" text-anchor="end" font-weight="bold" textLength="5.4" lengthAdjust="spacingAndGlyphs" fill="#262626" stroke="#262626" stroke-width="0.16">-0.35</text>
<text x="218.4" y="165.9" font-size="2.6" text-anchor="end" font-weight="bold" textLength="5.4" lengthAdjust="spacingAndGlyphs" fill="#262626" stroke="#262626" stroke-width="0.16">-0.40</text>
<text x="0" y="0" font-size="4.7" text-anchor="middle" fill="#383030" stroke="#383030" stroke-width="0.2" transform="translate(210.3,157.3) rotate(-90)" textLength="46" lengthAdjust="spacingAndGlyphs">Enrichment score (ES)</text>
<text x="260.8" y="130.2" font-size="6.2" text-anchor="middle" textLength="44.7" lengthAdjust="spacingAndGlyphs" fill="#1a1a1a" stroke="#1a1a1a" stroke-width="0.22">Insulin pathways</text>
<text x="223.0" y="164.4" font-size="6.7" textLength="30.7" lengthAdjust="spacingAndGlyphs" fill="#1a1a1a" stroke="#1a1a1a" stroke-width="0.25">FDR = 0.18</text>
<defs><linearGradient id="rk5" x1="0" x2="1" y1="0" y2="0"><stop offset="0.000" stop-color="#d63c4c"/><stop offset="0.270" stop-color="#de4c5e"/><stop offset="0.330" stop-color="#e68ca0"/><stop offset="0.380" stop-color="#eec2d0"/><stop offset="0.460" stop-color="#eedee8"/><stop offset="0.560" stop-color="#e4e0f0"/><stop offset="0.650" stop-color="#d0cce8"/><stop offset="0.690" stop-color="#a09cd4"/><stop offset="0.720" stop-color="#7470c2"/><stop offset="0.860" stop-color="#5c5ab0"/><stop offset="0.950" stop-color="#444494"/><stop offset="1.000" stop-color="#2c2c66"/></linearGradient></defs>
<rect x="325.8" y="69.4" width="78.59999999999997" height="36.0" fill="none" stroke="#d6d6d6" stroke-width="0.6"/>
<line x1="325.8" y1="75.0" x2="404.4" y2="75.0" stroke="#dcdcdc" stroke-width="0.6"/>
<g filter="url(#sblur)">
<rect x="326.00" y="105.8" width="1.20" height="11.799999999999997" fill="#5a5a5a"/>
<rect x="327.20" y="105.8" width="1.40" height="11.799999999999997" fill="#969696"/>
<rect x="328.80" y="105.8" width="1.20" height="11.799999999999997" fill="#3c3c3c"/>
<rect x="330.00" y="105.8" width="2.00" height="11.799999999999997" fill="#c8c8c8"/>
<rect x="332.00" y="105.8" width="1.30" height="11.799999999999997" fill="#828282"/>
<rect x="333.70" y="105.8" width="2.40" height="11.799999999999997" fill="#8c8c8c"/>
<rect x="336.50" y="105.8" width="1.20" height="11.799999999999997" fill="#f5f5f5"/>
<rect x="338.00" y="105.8" width="5.40" height="11.799999999999997" fill="#787878"/>
<rect x="343.80" y="105.8" width="0.80" height="11.799999999999997" fill="#323232"/>
<rect x="345.00" y="105.8" width="1.60" height="11.799999999999997" fill="#c8c8c8"/>
<rect x="347.00" y="105.8" width="0.80" height="11.799999999999997" fill="#3c3c3c"/>
<rect x="348.20" y="105.8" width="2.40" height="11.799999999999997" fill="#8c8c8c"/>
<rect x="351.00" y="105.8" width="1.70" height="11.799999999999997" fill="#5a5a5a"/>
<rect x="353.00" y="105.8" width="0.90" height="11.799999999999997" fill="#f0f0f0"/>
<rect x="354.30" y="105.8" width="0.80" height="11.799999999999997" fill="#141414"/>
<rect x="355.50" y="105.8" width="3.20" height="11.799999999999997" fill="#8c8c8c"/>
<rect x="359.00" y="105.8" width="1.30" height="11.799999999999997" fill="#5a5a5a"/>
<rect x="361.20" y="105.8" width="1.60" height="11.799999999999997" fill="#8c8c8c"/>
<rect x="363.20" y="105.8" width="1.20" height="11.799999999999997" fill="#5a5a5a"/>
<rect x="364.40" y="105.8" width="1.20" height="11.799999999999997" fill="#828282"/>
<rect x="366.00" y="105.8" width="1.60" height="11.799999999999997" fill="#aaaaaa"/>
<rect x="368.00" y="105.8" width="2.50" height="11.799999999999997" fill="#e1e1e1"/>
<rect x="370.90" y="105.8" width="2.00" height="11.799999999999997" fill="#0f0f0f"/>
<rect x="373.30" y="105.8" width="1.20" height="11.799999999999997" fill="#d2d2d2"/>
<rect x="374.90" y="105.8" width="1.20" height="11.799999999999997" fill="#282828"/>
<rect x="376.50" y="105.8" width="2.80" height="11.799999999999997" fill="#787878"/>
<rect x="379.80" y="105.8" width="1.60" height="11.799999999999997" fill="#141414"/>
<rect x="381.80" y="105.8" width="1.20" height="11.799999999999997" fill="#b4b4b4"/>
<rect x="383.40" y="105.8" width="1.60" height="11.799999999999997" fill="#141414"/>
<rect x="385.40" y="105.8" width="0.80" height="11.799999999999997" fill="#f5f5f5"/>
<rect x="386.60" y="105.8" width="5.30" height="11.799999999999997" fill="#646464"/>
<rect x="392.30" y="105.8" width="0.70" height="11.799999999999997" fill="#d2d2d2"/>
<rect x="393.50" y="105.8" width="2.40" height="11.799999999999997" fill="#323232"/>
<rect x="396.30" y="105.8" width="1.20" height="11.799999999999997" fill="#d2d2d2"/>
<rect x="397.90" y="105.8" width="1.60" height="11.799999999999997" fill="#141414"/>
<rect x="400.00" y="105.8" width="0.80" height="11.799999999999997" fill="#dcdcdc"/>
<rect x="401.20" y="105.8" width="2.40" height="11.799999999999997" fill="#141414"/>
</g>
<line x1="325.8" y1="105.8" x2="325.8" y2="121.0" stroke="#d6d6d6" stroke-width="0.6"/>
<line x1="404.4" y1="105.8" x2="404.4" y2="121.0" stroke="#d6d6d6" stroke-width="0.6"/>
<rect x="326" y="117.8" width="77.80000000000001" height="3.200000000000003" fill="url(#rk5)" filter="url(#sblur)"/>
<polyline points="326.1,70.9 328.8,70.5 330.5,69.8 333.0,70.9 335.1,71.7 337.2,72.1 341.3,74.2 345.5,76.7 349.6,79.8 353.8,83.3 357.9,87.1 362.1,90.8 366.2,94.3 370.4,97.5 374.5,99.5 378.7,101.2 382.8,102.6 386.0,103.5 390.1,102.0 393.2,101.2 397.4,98.5 399.5,96.2 400.8,95.1 401.8,92.0 402.5,85.0 403.4,75.7" fill="none" stroke="#c4e6b6" stroke-width="2.2" stroke-linejoin="round" opacity="0.8"/>
<polyline points="326.1,70.9 328.8,70.5 330.5,69.8 333.0,70.9 335.1,71.7 337.2,72.1 341.3,74.2 345.5,76.7 349.6,79.8 353.8,83.3 357.9,87.1 362.1,90.8 366.2,94.3 370.4,97.5 374.5,99.5 378.7,101.2 382.8,102.6 386.0,103.5 390.1,102.0 393.2,101.2 397.4,98.5 399.5,96.2 400.8,95.1 401.8,92.0 402.5,85.0 403.4,75.7" fill="none" stroke="#70ba5c" stroke-width="1.0" stroke-linejoin="round"/>
<text x="324.6" y="71.4" font-size="2.6" text-anchor="end" font-weight="bold" textLength="5.4" lengthAdjust="spacingAndGlyphs" fill="#262626" stroke="#262626" stroke-width="0.16">0.05</text>
<text x="324.6" y="74.75" font-size="2.6" text-anchor="end" font-weight="bold" textLength="5.4" lengthAdjust="spacingAndGlyphs" fill="#262626" stroke="#262626" stroke-width="0.16">0.00</text>
<text x="324.6" y="78.1" font-size="2.6" text-anchor="end" font-weight="bold" textLength="5.4" lengthAdjust="spacingAndGlyphs" fill="#262626" stroke="#262626" stroke-width="0.16">-0.05</text>
<text x="324.6" y="81.45" font-size="2.6" text-anchor="end" font-weight="bold" textLength="5.4" lengthAdjust="spacingAndGlyphs" fill="#262626" stroke="#262626" stroke-width="0.16">-0.10</text>
<text x="324.6" y="84.8" font-size="2.6" text-anchor="end" font-weight="bold" textLength="5.4" lengthAdjust="spacingAndGlyphs" fill="#262626" stroke="#262626" stroke-width="0.16">-0.15</text>
<text x="324.6" y="88.15" font-size="2.6" text-anchor="end" font-weight="bold" textLength="5.4" lengthAdjust="spacingAndGlyphs" fill="#262626" stroke="#262626" stroke-width="0.16">-0.20</text>
<text x="324.6" y="91.5" font-size="2.6" text-anchor="end" font-weight="bold" textLength="5.4" lengthAdjust="spacingAndGlyphs" fill="#262626" stroke="#262626" stroke-width="0.16">-0.25</text>
<text x="324.6" y="94.85" font-size="2.6" text-anchor="end" font-weight="bold" textLength="5.4" lengthAdjust="spacingAndGlyphs" fill="#262626" stroke="#262626" stroke-width="0.16">-0.30</text>
<text x="324.6" y="98.2" font-size="2.6" text-anchor="end" font-weight="bold" textLength="5.4" lengthAdjust="spacingAndGlyphs" fill="#262626" stroke="#262626" stroke-width="0.16">-0.35</text>
<text x="324.6" y="101.55" font-size="2.6" text-anchor="end" font-weight="bold" textLength="5.4" lengthAdjust="spacingAndGlyphs" fill="#262626" stroke="#262626" stroke-width="0.16">-0.40</text>
<text x="324.6" y="104.9" font-size="2.6" text-anchor="end" font-weight="bold" textLength="5.4" lengthAdjust="spacingAndGlyphs" fill="#262626" stroke="#262626" stroke-width="0.16">-0.45</text>
<text x="0" y="0" font-size="4.7" text-anchor="middle" fill="#383030" stroke="#383030" stroke-width="0.2" transform="translate(315.2,95.2) rotate(-90)" textLength="46" lengthAdjust="spacingAndGlyphs">Enrichment score (ES)</text>
<text x="365.2" y="63.8" font-size="6.2" text-anchor="middle" textLength="40.3" lengthAdjust="spacingAndGlyphs" fill="#1a1a1a" stroke="#1a1a1a" stroke-width="0.22">KRAS.600_UP</text>
<text x="328.6" y="103.8" font-size="6.7" textLength="34.4" lengthAdjust="spacingAndGlyphs" fill="#1a1a1a" stroke="#1a1a1a" stroke-width="0.25">FDR = 0.014</text>
<defs><linearGradient id="rk6" x1="0" x2="1" y1="0" y2="0"><stop offset="0.000" stop-color="#d63c4c"/><stop offset="0.254" stop-color="#de4c5e"/><stop offset="0.310" stop-color="#e68ca0"/><stop offset="0.361" stop-color="#eec2d0"/><stop offset="0.444" stop-color="#eedee8"/><stop offset="0.546" stop-color="#e4e0f0"/><stop offset="0.639" stop-color="#d0cce8"/><stop offset="0.680" stop-color="#a09cd4"/><stop offset="0.711" stop-color="#7470c2"/><stop offset="0.855" stop-color="#5c5ab0"/><stop offset="0.948" stop-color="#444494"/><stop offset="1.000" stop-color="#2c2c66"/></linearGradient></defs>
<rect x="422.9" y="68.6" width="80.90000000000003" height="36.80000000000001" fill="none" stroke="#d6d6d6" stroke-width="0.6"/>
<line x1="422.9" y1="74.6" x2="503.8" y2="74.6" stroke="#dcdcdc" stroke-width="0.6"/>
<g filter="url(#sblur)">
<rect x="423.00" y="105.8" width="1.20" height="11.799999999999997" fill="#646464"/>
<rect x="424.20" y="105.8" width="1.20" height="11.799999999999997" fill="#969696"/>
<rect x="425.40" y="105.8" width="1.30" height="11.799999999999997" fill="#505050"/>
<rect x="427.00" y="105.8" width="2.00" height="11.799999999999997" fill="#c8c8c8"/>
<rect x="429.00" y="105.8" width="0.80" height="11.799999999999997" fill="#828282"/>
<rect x="429.80" y="105.8" width="1.70" height="11.799999999999997" fill="#c8c8c8"/>
<rect x="431.90" y="105.8" width="2.40" height="11.799999999999997" fill="#5a5a5a"/>
<rect x="434.70" y="105.8" width="2.10" height="11.799999999999997" fill="#8c8c8c"/>
<rect x="437.20" y="105.8" width="1.20" height="11.799999999999997" fill="#f5f5f5"/>
<rect x="438.80" y="105.8" width="3.20" height="11.799999999999997" fill="#8c8c8c"/>
<rect x="442.40" y="105.8" width="2.80" height="11.799999999999997" fill="#6e6e6e"/>
<rect x="445.60" y="105.8" width="1.20" height="11.799999999999997" fill="#dcdcdc"/>
<rect x="447.70" y="105.8" width="4.80" height="11.799999999999997" fill="#8c8c8c"/>
<rect x="452.90" y="105.8" width="1.20" height="11.799999999999997" fill="#191919"/>
<rect x="454.50" y="105.8" width="0.80" height="11.799999999999997" fill="#dcdcdc"/>
<rect x="455.70" y="105.8" width="1.60" height="11.799999999999997" fill="#191919"/>
<rect x="457.70" y="105.8" width="0.90" height="11.799999999999997" fill="#d2d2d2"/>
<rect x="459.00" y="105.8" width="1.20" height="11.799999999999997" fill="#191919"/>
<rect x="460.40" y="105.8" width="2.30" height="11.799999999999997" fill="#646464"/>
<rect x="463.10" y="105.8" width="2.60" height="11.799999999999997" fill="#8c8c8c"/>
<rect x="466.00" y="105.8" width="1.30" height="11.799999999999997" fill="#464646"/>
<rect x="467.80" y="105.8" width="1.70" height="11.799999999999997" fill="#8c8c8c"/>
<rect x="470.30" y="105.8" width="1.30" height="11.799999999999997" fill="#5a5a5a"/>
<rect x="472.00" y="105.8" width="2.10" height="11.799999999999997" fill="#f5f5f5"/>
<rect x="474.50" y="105.8" width="2.20" height="11.799999999999997" fill="#828282"/>
<rect x="477.90" y="105.8" width="2.10" height="11.799999999999997" fill="#505050"/>
<rect x="480.50" y="105.8" width="0.80" height="11.799999999999997" fill="#d2d2d2"/>
<rect x="481.60" y="105.8" width="1.80" height="11.799999999999997" fill="#969696"/>
<rect x="483.80" y="105.8" width="2.60" height="11.799999999999997" fill="#282828"/>
<rect x="486.80" y="105.8" width="2.10" height="11.799999999999997" fill="#8c8c8c"/>
<rect x="489.30" y="105.8" width="2.20" height="11.799999999999997" fill="#5a5a5a"/>
<rect x="491.90" y="105.8" width="2.10" height="11.799999999999997" fill="#8c8c8c"/>
<rect x="494.40" y="105.8" width="2.60" height="11.799999999999997" fill="#3c3c3c"/>
<rect x="497.40" y="105.8" width="1.20" height="11.799999999999997" fill="#f5f5f5"/>
<rect x="499.00" y="105.8" width="1.80" height="11.799999999999997" fill="#505050"/>
<rect x="500.80" y="105.8" width="0.80" height="11.799999999999997" fill="#969696"/>
</g>
<line x1="422.9" y1="105.8" x2="422.9" y2="121.0" stroke="#d6d6d6" stroke-width="0.6"/>
<line x1="503.8" y1="105.8" x2="503.8" y2="121.0" stroke="#d6d6d6" stroke-width="0.6"/>
<rect x="423" y="117.8" width="79.0" height="3.200000000000003" fill="url(#rk6)" filter="url(#sblur)"/>
<polyline points="422.9,72.5 425.6,70.5 427.7,69.4 429.7,70.0 431.8,70.9 433.9,70.9 436.0,72.1 439.1,74.6 443.2,76.3 447.4,79.8 451.5,82.9 455.7,86.0 459.8,89.2 464.0,92.3 468.2,95.4 472.3,98.5 476.5,100.6 480.6,102.0 483.7,103.3 486.8,102.0 490.0,100.6 493.1,98.5 495.2,96.4 496.8,93.3 498.3,91.2 499.7,89.2 501.0,84.0 501.8,80.8 502.2,75.7" fill="none" stroke="#c4e6b6" stroke-width="2.2" stroke-linejoin="round" opacity="0.8"/>
<polyline points="422.9,72.5 425.6,70.5 427.7,69.4 429.7,70.0 431.8,70.9 433.9,70.9 436.0,72.1 439.1,74.6 443.2,76.3 447.4,79.8 451.5,82.9 455.7,86.0 459.8,89.2 464.0,92.3 468.2,95.4 472.3,98.5 476.5,100.6 480.6,102.0 483.7,103.3 486.8,102.0 490.0,100.6 493.1,98.5 495.2,96.4 496.8,93.3 498.3,91.2 499.7,89.2 501.0,84.0 501.8,80.8 502.2,75.7" fill="none" stroke="#70ba5c" stroke-width="1.0" stroke-linejoin="round"/>
<text x="421.7" y="71.4" font-size="2.6" text-anchor="end" font-weight="bold" textLength="5.4" lengthAdjust="spacingAndGlyphs" fill="#262626" stroke="#262626" stroke-width="0.16">0.05</text>
<text x="421.7" y="74.75" font-size="2.6" text-anchor="end" font-weight="bold" textLength="5.4" lengthAdjust="spacingAndGlyphs" fill="#262626" stroke="#262626" stroke-width="0.16">0.00</text>
<text x="421.7" y="78.1" font-size="2.6" text-anchor="end" font-weight="bold" textLength="5.4" lengthAdjust="spacingAndGlyphs" fill="#262626" stroke="#262626" stroke-width="0.16">-0.05</text>
<text x="421.7" y="81.45" font-size="2.6" text-anchor="end" font-weight="bold" textLength="5.4" lengthAdjust="spacingAndGlyphs" fill="#262626" stroke="#262626" stroke-width="0.16">-0.10</text>
<text x="421.7" y="84.8" font-size="2.6" text-anchor="end" font-weight="bold" textLength="5.4" lengthAdjust="spacingAndGlyphs" fill="#262626" stroke="#262626" stroke-width="0.16">-0.15</text>
<text x="421.7" y="88.15" font-size="2.6" text-anchor="end" font-weight="bold" textLength="5.4" lengthAdjust="spacingAndGlyphs" fill="#262626" stroke="#262626" stroke-width="0.16">-0.20</text>
<text x="421.7" y="91.5" font-size="2.6" text-anchor="end" font-weight="bold" textLength="5.4" lengthAdjust="spacingAndGlyphs" fill="#262626" stroke="#262626" stroke-width="0.16">-0.25</text>
<text x="421.7" y="94.85" font-size="2.6" text-anchor="end" font-weight="bold" textLength="5.4" lengthAdjust="spacingAndGlyphs" fill="#262626" stroke="#262626" stroke-width="0.16">-0.30</text>
<text x="421.7" y="98.2" font-size="2.6" text-anchor="end" font-weight="bold" textLength="5.4" lengthAdjust="spacingAndGlyphs" fill="#262626" stroke="#262626" stroke-width="0.16">-0.35</text>
<text x="421.7" y="101.55" font-size="2.6" text-anchor="end" font-weight="bold" textLength="5.4" lengthAdjust="spacingAndGlyphs" fill="#262626" stroke="#262626" stroke-width="0.16">-0.40</text>
<text x="421.7" y="104.9" font-size="2.6" text-anchor="end" font-weight="bold" textLength="5.4" lengthAdjust="spacingAndGlyphs" fill="#262626" stroke="#262626" stroke-width="0.16">-0.45</text>
<text x="0" y="0" font-size="4.7" text-anchor="middle" fill="#383030" stroke="#383030" stroke-width="0.2" transform="translate(412.3,94.8) rotate(-90)" textLength="46" lengthAdjust="spacingAndGlyphs">Enrichment score (ES)</text>
<text x="463.8" y="64.0" font-size="6.2" text-anchor="middle" textLength="66" lengthAdjust="spacingAndGlyphs" fill="#1a1a1a" stroke="#1a1a1a" stroke-width="0.22">PRC1_BMI1_UP.V1_DN</text>
<text x="425.8" y="103.8" font-size="6.7" textLength="34.0" lengthAdjust="spacingAndGlyphs" fill="#1a1a1a" stroke="#1a1a1a" stroke-width="0.25">FDR = 0.016</text>
<defs><linearGradient id="rk7" x1="0" x2="1" y1="0" y2="0"><stop offset="0.000" stop-color="#d63c4c"/><stop offset="0.278" stop-color="#de4c5e"/><stop offset="0.340" stop-color="#e68ca0"/><stop offset="0.393" stop-color="#eec2d0"/><stop offset="0.477" stop-color="#eedee8"/><stop offset="0.583" stop-color="#e4e0f0"/><stop offset="0.678" stop-color="#d0cce8"/><stop offset="0.720" stop-color="#a09cd4"/><stop offset="0.747" stop-color="#7470c2"/><stop offset="0.874" stop-color="#5c5ab0"/><stop offset="0.955" stop-color="#444494"/><stop offset="1.000" stop-color="#2c2c66"/></linearGradient></defs>
<rect x="325.1" y="131.0" width="78.89999999999998" height="37.30000000000001" fill="none" stroke="#d6d6d6" stroke-width="0.6"/>
<line x1="325.1" y1="140.3" x2="404.0" y2="140.3" stroke="#dcdcdc" stroke-width="0.6"/>
<g filter="url(#sblur)">
<rect x="325.00" y="168.6" width="1.60" height="12.200000000000017" fill="#bebebe"/>
<rect x="327.40" y="168.6" width="1.60" height="12.200000000000017" fill="#1e1e1e"/>
<rect x="329.50" y="168.6" width="2.40" height="12.200000000000017" fill="#b4b4b4"/>
<rect x="332.30" y="168.6" width="0.80" height="12.200000000000017" fill="#3c3c3c"/>
<rect x="333.50" y="168.6" width="3.60" height="12.200000000000017" fill="#afafaf"/>
<rect x="337.50" y="168.6" width="1.70" height="12.200000000000017" fill="#5a5a5a"/>
<rect x="339.60" y="168.6" width="0.80" height="12.200000000000017" fill="#f0f0f0"/>
<rect x="340.80" y="168.6" width="2.40" height="12.200000000000017" fill="#969696"/>
<rect x="343.60" y="168.6" width="1.60" height="12.200000000000017" fill="#3c3c3c"/>
<rect x="345.60" y="168.6" width="3.20" height="12.200000000000017" fill="#aaaaaa"/>
<rect x="349.30" y="168.6" width="1.20" height="12.200000000000017" fill="#323232"/>
<rect x="350.90" y="168.6" width="1.60" height="12.200000000000017" fill="#646464"/>
<rect x="352.90" y="168.6" width="2.00" height="12.200000000000017" fill="#afafaf"/>
<rect x="355.30" y="168.6" width="1.60" height="12.200000000000017" fill="#8c8c8c"/>
<rect x="357.30" y="168.6" width="1.60" height="12.200000000000017" fill="#c8c8c8"/>
<rect x="359.30" y="168.6" width="1.70" height="12.200000000000017" fill="#8c8c8c"/>
<rect x="361.00" y="168.6" width="1.20" height="12.200000000000017" fill="#c8c8c8"/>
<rect x="362.60" y="168.6" width="1.20" height="12.200000000000017" fill="#1e1e1e"/>
<rect x="363.80" y="168.6" width="0.50" height="12.200000000000017" fill="#6e6e6e"/>
<rect x="364.70" y="168.6" width="2.50" height="12.200000000000017" fill="#8c8c8c"/>
<rect x="367.60" y="168.6" width="1.30" height="12.200000000000017" fill="#f5f5f5"/>
<rect x="369.30" y="168.6" width="4.30" height="12.200000000000017" fill="#bebebe"/>
<rect x="374.00" y="168.6" width="1.70" height="12.200000000000017" fill="#f5f5f5"/>
<rect x="376.50" y="168.6" width="1.70" height="12.200000000000017" fill="#191919"/>
<rect x="378.70" y="168.6" width="2.90" height="12.200000000000017" fill="#8c8c8c"/>
<rect x="382.00" y="168.6" width="1.30" height="12.200000000000017" fill="#323232"/>
<rect x="383.70" y="168.6" width="1.30" height="12.200000000000017" fill="#c8c8c8"/>
<rect x="385.40" y="168.6" width="0.90" height="12.200000000000017" fill="#5a5a5a"/>
<rect x="386.70" y="168.6" width="2.50" height="12.200000000000017" fill="#c8c8c8"/>
<rect x="389.60" y="168.6" width="1.30" height="12.200000000000017" fill="#191919"/>
<rect x="391.30" y="168.6" width="3.00" height="12.200000000000017" fill="#8c8c8c"/>
<rect x="394.60" y="168.6" width="1.00" height="12.200000000000017" fill="#d2d2d2"/>
<rect x="396.00" y="168.6" width="1.70" height="12.200000000000017" fill="#191919"/>
<rect x="398.10" y="168.6" width="1.30" height="12.200000000000017" fill="#8c8c8c"/>
<rect x="399.80" y="168.6" width="3.80" height="12.200000000000017" fill="#5a5a5a"/>
</g>
<line x1="325.1" y1="168.6" x2="325.1" y2="184.0" stroke="#d6d6d6" stroke-width="0.6"/>
<line x1="404.0" y1="168.6" x2="404.0" y2="184.0" stroke="#d6d6d6" stroke-width="0.6"/>
<rect x="325.4" y="181.0" width="78.20000000000005" height="3.0" fill="url(#rk7)" filter="url(#sblur)"/>
<polyline points="325.1,135.5 326.8,134.9 328.8,133.4 331.3,132.4 334.0,132.8 337.2,134.5 342.3,137.0 347.5,139.7 351.7,142.4 355.8,145.3 360.0,148.6 364.2,152.1 368.3,155.2 372.5,158.3 376.6,160.8 380.8,162.9 384.9,164.6 389.1,166.0 393.2,166.7 395.7,166.0 397.4,163.5 399.5,159.4 401.1,153.2 402.6,146.9 403.6,139.7" fill="none" stroke="#c4e6b6" stroke-width="2.2" stroke-linejoin="round" opacity="0.8"/>
<polyline points="325.1,135.5 326.8,134.9 328.8,133.4 331.3,132.4 334.0,132.8 337.2,134.5 342.3,137.0 347.5,139.7 351.7,142.4 355.8,145.3 360.0,148.6 364.2,152.1 368.3,155.2 372.5,158.3 376.6,160.8 380.8,162.9 384.9,164.6 389.1,166.0 393.2,166.7 395.7,166.0 397.4,163.5 399.5,159.4 401.1,153.2 402.6,146.9 403.6,139.7" fill="none" stroke="#70ba5c" stroke-width="1.0" stroke-linejoin="round"/>
<text x="323.9" y="132.9" font-size="2.6" text-anchor="end" font-weight="bold" textLength="5.4" lengthAdjust="spacingAndGlyphs" fill="#262626" stroke="#262626" stroke-width="0.16">0.05</text>
<text x="323.9" y="136.35" font-size="2.6" text-anchor="end" font-weight="bold" textLength="5.4" lengthAdjust="spacingAndGlyphs" fill="#262626" stroke="#262626" stroke-width="0.16">0.00</text>
<text x="323.9" y="139.8" font-size="2.6" text-anchor="end" font-weight="bold" textLength="5.4" lengthAdjust="spacingAndGlyphs" fill="#262626" stroke="#262626" stroke-width="0.16">-0.05</text>
<text x="323.9" y="143.25" font-size="2.6" text-anchor="end" font-weight="bold" textLength="5.4" lengthAdjust="spacingAndGlyphs" fill="#262626" stroke="#262626" stroke-width="0.16">-0.10</text>
<text x="323.9" y="146.7" font-size="2.6" text-anchor="end" font-weight="bold" textLength="5.4" lengthAdjust="spacingAndGlyphs" fill="#262626" stroke="#262626" stroke-width="0.16">-0.15</text>
<text x="323.9" y="150.15" font-size="2.6" text-anchor="end" font-weight="bold" textLength="5.4" lengthAdjust="spacingAndGlyphs" fill="#262626" stroke="#262626" stroke-width="0.16">-0.20</text>
<text x="323.9" y="153.6" font-size="2.6" text-anchor="end" font-weight="bold" textLength="5.4" lengthAdjust="spacingAndGlyphs" fill="#262626" stroke="#262626" stroke-width="0.16">-0.25</text>
<text x="323.9" y="157.05" font-size="2.6" text-anchor="end" font-weight="bold" textLength="5.4" lengthAdjust="spacingAndGlyphs" fill="#262626" stroke="#262626" stroke-width="0.16">-0.30</text>
<text x="323.9" y="160.5" font-size="2.6" text-anchor="end" font-weight="bold" textLength="5.4" lengthAdjust="spacingAndGlyphs" fill="#262626" stroke="#262626" stroke-width="0.16">-0.35</text>
<text x="323.9" y="163.95" font-size="2.6" text-anchor="end" font-weight="bold" textLength="5.4" lengthAdjust="spacingAndGlyphs" fill="#262626" stroke="#262626" stroke-width="0.16">-0.40</text>
<text x="323.9" y="167.4" font-size="2.6" text-anchor="end" font-weight="bold" textLength="5.4" lengthAdjust="spacingAndGlyphs" fill="#262626" stroke="#262626" stroke-width="0.16">-0.45</text>
<text x="0" y="0" font-size="4.7" text-anchor="middle" fill="#383030" stroke="#383030" stroke-width="0.2" transform="translate(314.4,157.5) rotate(-90)" textLength="46" lengthAdjust="spacingAndGlyphs">Enrichment score (ES)</text>
<text x="365.2" y="130.2" font-size="6.2" text-anchor="middle" textLength="43.6" lengthAdjust="spacingAndGlyphs" fill="#1a1a1a" stroke="#1a1a1a" stroke-width="0.22">ALK_DN.V1_DN</text>
<text x="327.8" y="166.6" font-size="6.7" textLength="33.9" lengthAdjust="spacingAndGlyphs" fill="#1a1a1a" stroke="#1a1a1a" stroke-width="0.25">FDR = 0.015</text>
<defs><linearGradient id="rk8" x1="0" x2="1" y1="0" y2="0"><stop offset="0.000" stop-color="#d63c4c"/><stop offset="0.254" stop-color="#de4c5e"/><stop offset="0.310" stop-color="#e68ca0"/><stop offset="0.364" stop-color="#eec2d0"/><stop offset="0.451" stop-color="#eedee8"/><stop offset="0.559" stop-color="#e4e0f0"/><stop offset="0.657" stop-color="#d0cce8"/><stop offset="0.700" stop-color="#a09cd4"/><stop offset="0.729" stop-color="#7470c2"/><stop offset="0.865" stop-color="#5c5ab0"/><stop offset="0.952" stop-color="#444494"/><stop offset="1.000" stop-color="#2c2c66"/></linearGradient></defs>
<rect x="423.5" y="131.0" width="80.30000000000001" height="37.30000000000001" fill="none" stroke="#d6d6d6" stroke-width="0.6"/>
<line x1="423.5" y1="137.0" x2="503.8" y2="137.0" stroke="#dcdcdc" stroke-width="0.6"/>
<g filter="url(#sblur)">
<rect x="423.00" y="168.6" width="1.20" height="12.200000000000017" fill="#5a5a5a"/>
<rect x="424.60" y="168.6" width="1.20" height="12.200000000000017" fill="#f5f5f5"/>
<rect x="426.30" y="168.6" width="1.20" height="12.200000000000017" fill="#646464"/>
<rect x="427.90" y="168.6" width="4.40" height="12.200000000000017" fill="#969696"/>
<rect x="432.70" y="168.6" width="1.60" height="12.200000000000017" fill="#3c3c3c"/>
<rect x="434.70" y="168.6" width="0.90" height="12.200000000000017" fill="#f0f0f0"/>
<rect x="436.00" y="168.6" width="1.20" height="12.200000000000017" fill="#191919"/>
<rect x="437.60" y="168.6" width="1.20" height="12.200000000000017" fill="#d7d7d7"/>
<rect x="439.20" y="168.6" width="4.00" height="12.200000000000017" fill="#5f5f5f"/>
<rect x="443.60" y="168.6" width="2.40" height="12.200000000000017" fill="#969696"/>
<rect x="446.40" y="168.6" width="0.90" height="12.200000000000017" fill="#f0f0f0"/>
<rect x="447.70" y="168.6" width="1.20" height="12.200000000000017" fill="#5a5a5a"/>
<rect x="449.30" y="168.6" width="5.60" height="12.200000000000017" fill="#919191"/>
<rect x="455.30" y="168.6" width="1.20" height="12.200000000000017" fill="#f0f0f0"/>
<rect x="456.90" y="168.6" width="1.70" height="12.200000000000017" fill="#8c8c8c"/>
<rect x="459.00" y="168.6" width="1.20" height="12.200000000000017" fill="#191919"/>
<rect x="460.60" y="168.6" width="1.70" height="12.200000000000017" fill="#8c8c8c"/>
<rect x="462.70" y="168.6" width="2.10" height="12.200000000000017" fill="#c8c8c8"/>
<rect x="465.20" y="168.6" width="1.70" height="12.200000000000017" fill="#f5f5f5"/>
<rect x="467.30" y="168.6" width="2.20" height="12.200000000000017" fill="#282828"/>
<rect x="469.90" y="168.6" width="0.90" height="12.200000000000017" fill="#969696"/>
<rect x="471.20" y="168.6" width="3.30" height="12.200000000000017" fill="#5a5a5a"/>
<rect x="475.00" y="168.6" width="2.90" height="12.200000000000017" fill="#bebebe"/>
<rect x="478.30" y="168.6" width="1.70" height="12.200000000000017" fill="#8c8c8c"/>
<rect x="480.40" y="168.6" width="0.90" height="12.200000000000017" fill="#f0f0f0"/>
<rect x="481.70" y="168.6" width="3.80" height="12.200000000000017" fill="#5a5a5a"/>
<rect x="486.00" y="168.6" width="1.20" height="12.200000000000017" fill="#d2d2d2"/>
<rect x="487.60" y="168.6" width="3.00" height="12.200000000000017" fill="#5a5a5a"/>
<rect x="491.00" y="168.6" width="2.10" height="12.200000000000017" fill="#d2d2d2"/>
<rect x="493.60" y="168.6" width="2.90" height="12.200000000000017" fill="#3c3c3c"/>
<rect x="497.00" y="168.6" width="4.60" height="12.200000000000017" fill="#8c8c8c"/>
</g>
<line x1="423.5" y1="168.6" x2="423.5" y2="184.0" stroke="#d6d6d6" stroke-width="0.6"/>
<line x1="503.8" y1="168.6" x2="503.8" y2="184.0" stroke="#d6d6d6" stroke-width="0.6"/>
<rect x="423.6" y="181.0" width="78.39999999999998" height="3.0" fill="url(#rk8)" filter="url(#sblur)"/>
<polyline points="423.5,133.4 425.6,134.5 428.7,135.5 431.8,136.1 434.9,137.0 439.1,137.6 442.2,137.6 445.3,139.7 448.4,142.4 451.5,144.8 455.7,148.0 459.8,151.1 464.0,154.8 468.2,158.3 472.3,161.0 476.5,163.5 480.6,166.0 482.7,165.2 485.2,163.5 487.3,164.6 490.0,163.5 492.0,164.6 494.1,162.5 496.8,158.3 498.9,155.2 499.7,151.1 501.0,145.9 502.0,135.5" fill="none" stroke="#c4e6b6" stroke-width="2.2" stroke-linejoin="round" opacity="0.8"/>
<polyline points="423.5,133.4 425.6,134.5 428.7,135.5 431.8,136.1 434.9,137.0 439.1,137.6 442.2,137.6 445.3,139.7 448.4,142.4 451.5,144.8 455.7,148.0 459.8,151.1 464.0,154.8 468.2,158.3 472.3,161.0 476.5,163.5 480.6,166.0 482.7,165.2 485.2,163.5 487.3,164.6 490.0,163.5 492.0,164.6 494.1,162.5 496.8,158.3 498.9,155.2 499.7,151.1 501.0,145.9 502.0,135.5" fill="none" stroke="#70ba5c" stroke-width="1.0" stroke-linejoin="round"/>
<text x="422.3" y="132.9" font-size="2.6" text-anchor="end" font-weight="bold" textLength="5.4" lengthAdjust="spacingAndGlyphs" fill="#262626" stroke="#262626" stroke-width="0.16">0.05</text>
<text x="422.3" y="136.73" font-size="2.6" text-anchor="end" font-weight="bold" textLength="5.4" lengthAdjust="spacingAndGlyphs" fill="#262626" stroke="#262626" stroke-width="0.16">0.00</text>
<text x="422.3" y="140.57" font-size="2.6" text-anchor="end" font-weight="bold" textLength="5.4" lengthAdjust="spacingAndGlyphs" fill="#262626" stroke="#262626" stroke-width="0.16">-0.05</text>
<text x="422.3" y="144.4" font-size="2.6" text-anchor="end" font-weight="bold" textLength="5.4" lengthAdjust="spacingAndGlyphs" fill="#262626" stroke="#262626" stroke-width="0.16">-0.10</text>
<text x="422.3" y="148.23" font-size="2.6" text-anchor="end" font-weight="bold" textLength="5.4" lengthAdjust="spacingAndGlyphs" fill="#262626" stroke="#262626" stroke-width="0.16">-0.15</text>
<text x="422.3" y="152.07" font-size="2.6" text-anchor="end" font-weight="bold" textLength="5.4" lengthAdjust="spacingAndGlyphs" fill="#262626" stroke="#262626" stroke-width="0.16">-0.20</text>
<text x="422.3" y="155.9" font-size="2.6" text-anchor="end" font-weight="bold" textLength="5.4" lengthAdjust="spacingAndGlyphs" fill="#262626" stroke="#262626" stroke-width="0.16">-0.25</text>
<text x="422.3" y="159.73" font-size="2.6" text-anchor="end" font-weight="bold" textLength="5.4" lengthAdjust="spacingAndGlyphs" fill="#262626" stroke="#262626" stroke-width="0.16">-0.30</text>
<text x="422.3" y="163.57" font-size="2.6" text-anchor="end" font-weight="bold" textLength="5.4" lengthAdjust="spacingAndGlyphs" fill="#262626" stroke="#262626" stroke-width="0.16">-0.35</text>
<text x="422.3" y="167.4" font-size="2.6" text-anchor="end" font-weight="bold" textLength="5.4" lengthAdjust="spacingAndGlyphs" fill="#262626" stroke="#262626" stroke-width="0.16">-0.40</text>
<text x="0" y="0" font-size="4.7" text-anchor="middle" fill="#383030" stroke="#383030" stroke-width="0.2" transform="translate(412.6,157.5) rotate(-90)" textLength="46" lengthAdjust="spacingAndGlyphs">Enrichment score (ES)</text>
<text x="464.5" y="130.3" font-size="6.2" text-anchor="middle" textLength="75.8" lengthAdjust="spacingAndGlyphs" fill="#1a1a1a" stroke="#1a1a1a" stroke-width="0.22">AKT_UP_MTOR_DN.V1_UP</text>
<text x="426.2" y="166.6" font-size="6.7" textLength="33.6" lengthAdjust="spacingAndGlyphs" fill="#1a1a1a" stroke="#1a1a1a" stroke-width="0.25">FDR = 0.031</text>
<line x1="146.0" y1="209.8" x2="146.0" y2="288.6" stroke="#8a8a8a" stroke-width="0.7"/>
<line x1="144.8" y1="288.60" x2="146.0" y2="288.60" stroke="#8a8a8a" stroke-width="0.6"/>
<text x="143.1" y="290.7" font-size="6.9" text-anchor="end" fill="#1a1a1a" stroke="#1a1a1a" stroke-width="0.15">0</text>
<line x1="144.8" y1="279.90" x2="146.0" y2="279.90" stroke="#8a8a8a" stroke-width="0.6"/>
<text x="143.1" y="282.0" font-size="6.9" text-anchor="end" fill="#1a1a1a" stroke="#1a1a1a" stroke-width="0.15">2</text>
<line x1="144.8" y1="271.20" x2="146.0" y2="271.20" stroke="#8a8a8a" stroke-width="0.6"/>
<text x="143.1" y="273.3" font-size="6.9" text-anchor="end" fill="#1a1a1a" stroke="#1a1a1a" stroke-width="0.15">4</text>
<line x1="144.8" y1="262.50" x2="146.0" y2="262.50" stroke="#8a8a8a" stroke-width="0.6"/>
<text x="143.1" y="264.6" font-size="6.9" text-anchor="end" fill="#1a1a1a" stroke="#1a1a1a" stroke-width="0.15">6</text>
<line x1="144.8" y1="253.80" x2="146.0" y2="253.80" stroke="#8a8a8a" stroke-width="0.6"/>
<text x="143.1" y="255.9" font-size="6.9" text-anchor="end" fill="#1a1a1a" stroke="#1a1a1a" stroke-width="0.15">8</text>
<line x1="144.8" y1="245.10" x2="146.0" y2="245.10" stroke="#8a8a8a" stroke-width="0.6"/>
<text x="143.1" y="247.2" font-size="6.9" text-anchor="end" fill="#1a1a1a" stroke="#1a1a1a" stroke-width="0.15">10</text>
<line x1="144.8" y1="236.40" x2="146.0" y2="236.40" stroke="#8a8a8a" stroke-width="0.6"/>
<text x="143.1" y="238.5" font-size="6.9" text-anchor="end" fill="#1a1a1a" stroke="#1a1a1a" stroke-width="0.15">12</text>
<line x1="144.8" y1="227.70" x2="146.0" y2="227.70" stroke="#8a8a8a" stroke-width="0.6"/>
<text x="143.1" y="229.8" font-size="6.9" text-anchor="end" fill="#1a1a1a" stroke="#1a1a1a" stroke-width="0.15">14</text>
<line x1="144.8" y1="219.00" x2="146.0" y2="219.00" stroke="#8a8a8a" stroke-width="0.6"/>
<text x="143.1" y="221.1" font-size="6.9" text-anchor="end" fill="#1a1a1a" stroke="#1a1a1a" stroke-width="0.15">16</text>
<line x1="144.8" y1="210.30" x2="146.0" y2="210.30" stroke="#8a8a8a" stroke-width="0.6"/>
<text x="143.1" y="212.4" font-size="6.9" text-anchor="end" fill="#1a1a1a" stroke="#1a1a1a" stroke-width="0.15">18</text>
<line x1="146.0" y1="288.6" x2="264.5" y2="288.6" stroke="#555" stroke-width="0.8"/>
<line x1="147.60" y1="288.6" x2="147.60" y2="289.8" stroke="#777" stroke-width="0.5"/>
<line x1="164.80" y1="288.6" x2="164.80" y2="289.8" stroke="#777" stroke-width="0.5"/>
<line x1="182.00" y1="288.6" x2="182.00" y2="289.8" stroke="#777" stroke-width="0.5"/>
<line x1="199.20" y1="288.6" x2="199.20" y2="289.8" stroke="#777" stroke-width="0.5"/>
<line x1="216.40" y1="288.6" x2="216.40" y2="289.8" stroke="#777" stroke-width="0.5"/>
<line x1="233.60" y1="288.6" x2="233.60" y2="289.8" stroke="#777" stroke-width="0.5"/>
<line x1="250.80" y1="288.6" x2="250.80" y2="289.8" stroke="#777" stroke-width="0.5"/>
<rect x="149.60" y="284.55" width="4.8" height="4.05" fill="#fff" stroke="#111" stroke-width="0.6"/>
<line x1="157.05" y1="274.46" x2="157.05" y2="274.90" stroke="#444" stroke-width="0.6"/>
<line x1="156.00" y1="274.46" x2="158.10" y2="274.46" stroke="#444" stroke-width="0.6"/>
<rect x="154.70" y="274.90" width="4.8" height="13.70" fill="#000" rx="0.8"/>
<text x="0" y="0" font-size="5.9" text-anchor="end" fill="#1a1a1a" stroke="#1a1a1a" stroke-width="0.12" transform="translate(155.3,296.2) rotate(-45)">INSR</text>
<rect x="166.80" y="284.55" width="4.8" height="4.05" fill="#fff" stroke="#111" stroke-width="0.6"/>
<line x1="174.25" y1="269.24" x2="174.25" y2="270.98" stroke="#444" stroke-width="0.6"/>
<line x1="173.20" y1="269.24" x2="175.30" y2="269.24" stroke="#444" stroke-width="0.6"/>
<rect x="171.90" y="270.98" width="4.8" height="17.62" fill="#000" rx="0.8"/>
<text x="0" y="0" font-size="5.9" text-anchor="end" fill="#1a1a1a" stroke="#1a1a1a" stroke-width="0.12" transform="translate(172.5,296.2) rotate(-45)">IRS1</text>
<rect x="184.00" y="284.55" width="4.8" height="4.05" fill="#fff" stroke="#111" stroke-width="0.6"/>
<line x1="191.45" y1="267.50" x2="191.45" y2="270.98" stroke="#444" stroke-width="0.6"/>
<line x1="190.40" y1="267.50" x2="192.50" y2="267.50" stroke="#444" stroke-width="0.6"/>
<rect x="189.10" y="270.98" width="4.8" height="17.62" fill="#000" rx="0.8"/>
<text x="0" y="0" font-size="5.9" text-anchor="end" fill="#1a1a1a" stroke="#1a1a1a" stroke-width="0.12" transform="translate(189.7,296.2) rotate(-45)">SOCS1</text>
<rect x="201.20" y="284.55" width="4.8" height="4.05" fill="#fff" stroke="#111" stroke-width="0.6"/>
<line x1="208.65" y1="256.19" x2="208.65" y2="256.63" stroke="#444" stroke-width="0.6"/>
<line x1="207.60" y1="256.19" x2="209.70" y2="256.19" stroke="#444" stroke-width="0.6"/>
<rect x="206.30" y="256.63" width="4.8" height="31.97" fill="#000" rx="0.8"/>
<text x="0" y="0" font-size="5.9" text-anchor="end" fill="#1a1a1a" stroke="#1a1a1a" stroke-width="0.12" transform="translate(206.9,296.2) rotate(-45)">SOCS3</text>
<rect x="218.40" y="284.55" width="4.8" height="4.05" fill="#fff" stroke="#111" stroke-width="0.6"/>
<line x1="225.85" y1="275.77" x2="225.85" y2="276.42" stroke="#444" stroke-width="0.6"/>
<line x1="224.80" y1="275.77" x2="226.90" y2="275.77" stroke="#444" stroke-width="0.6"/>
<rect x="223.50" y="276.42" width="4.8" height="12.18" fill="#000" rx="0.8"/>
<text x="0" y="0" font-size="5.9" text-anchor="end" fill="#1a1a1a" stroke="#1a1a1a" stroke-width="0.12" transform="translate(224.1,296.2) rotate(-45)">PIK3R1</text>
<rect x="235.60" y="284.55" width="4.8" height="4.05" fill="#fff" stroke="#111" stroke-width="0.6"/>
<line x1="243.05" y1="277.51" x2="243.05" y2="278.16" stroke="#444" stroke-width="0.6"/>
<line x1="242.00" y1="277.51" x2="244.10" y2="277.51" stroke="#444" stroke-width="0.6"/>
<rect x="240.70" y="278.16" width="4.8" height="10.44" fill="#000" rx="0.8"/>
<text x="0" y="0" font-size="5.9" text-anchor="end" fill="#1a1a1a" stroke="#1a1a1a" stroke-width="0.12" transform="translate(241.3,296.2) rotate(-45)">ALDH3A2</text>
<rect x="252.80" y="284.55" width="4.8" height="4.05" fill="#fff" stroke="#111" stroke-width="0.6"/>
<line x1="260.25" y1="216.39" x2="260.25" y2="222.92" stroke="#444" stroke-width="0.6"/>
<line x1="259.20" y1="216.39" x2="261.30" y2="216.39" stroke="#444" stroke-width="0.6"/>
<rect x="257.90" y="222.92" width="4.8" height="65.69" fill="#000" rx="0.8"/>
<text x="0" y="0" font-size="5.9" text-anchor="end" fill="#1a1a1a" stroke="#1a1a1a" stroke-width="0.12" transform="translate(258.5,296.2) rotate(-45)">DHRS2</text>
<text x="197.3" y="207.0" font-size="8.2" text-anchor="middle" textLength="25.4" lengthAdjust="spacingAndGlyphs" fill="#1a1a1a" stroke="#1a1a1a" stroke-width="0.2">IMR32</text>
<rect x="149.39999999999998" y="214.3" width="3.0" height="3.0" fill="#fff" stroke="#444" stroke-width="0.6"/>
<text x="153.0" y="217.9" font-size="6.9" textLength="18.2" lengthAdjust="spacingAndGlyphs" fill="#1a1a1a" stroke="#1a1a1a" stroke-width="0.22">CTRL</text>
<rect x="149.7" y="224.9" width="3.2" height="3.5" fill="#000"/>
<text x="154.2" y="228.9" font-size="6.9" textLength="36.6" lengthAdjust="spacingAndGlyphs" fill="#1a1a1a" stroke="#1a1a1a" stroke-width="0.22">CHAF1A KD</text>
<line x1="279.6" y1="209.8" x2="279.6" y2="288.6" stroke="#8a8a8a" stroke-width="0.7"/>
<line x1="278.40000000000003" y1="288.60" x2="279.6" y2="288.60" stroke="#8a8a8a" stroke-width="0.6"/>
<text x="276.70000000000005" y="290.7" font-size="6.9" text-anchor="end" fill="#1a1a1a" stroke="#1a1a1a" stroke-width="0.15">0</text>
<line x1="278.40000000000003" y1="279.90" x2="279.6" y2="279.90" stroke="#8a8a8a" stroke-width="0.6"/>
<text x="276.70000000000005" y="282.0" font-size="6.9" text-anchor="end" fill="#1a1a1a" stroke="#1a1a1a" stroke-width="0.15">2</text>
<line x1="278.40000000000003" y1="271.20" x2="279.6" y2="271.20" stroke="#8a8a8a" stroke-width="0.6"/>
<text x="276.70000000000005" y="273.3" font-size="6.9" text-anchor="end" fill="#1a1a1a" stroke="#1a1a1a" stroke-width="0.15">4</text>
<line x1="278.40000000000003" y1="262.50" x2="279.6" y2="262.50" stroke="#8a8a8a" stroke-width="0.6"/>
<text x="276.70000000000005" y="264.6" font-size="6.9" text-anchor="end" fill="#1a1a1a" stroke="#1a1a1a" stroke-width="0.15">6</text>
<line x1="278.40000000000003" y1="253.80" x2="279.6" y2="253.80" stroke="#8a8a8a" stroke-width="0.6"/>
<text x="276.70000000000005" y="255.9" font-size="6.9" text-anchor="end" fill="#1a1a1a" stroke="#1a1a1a" stroke-width="0.15">8</text>
<line x1="278.40000000000003" y1="245.10" x2="279.6" y2="245.10" stroke="#8a8a8a" stroke-width="0.6"/>
<text x="276.70000000000005" y="247.2" font-size="6.9" text-anchor="end" fill="#1a1a1a" stroke="#1a1a1a" stroke-width="0.15">10</text>
<line x1="278.40000000000003" y1="236.40" x2="279.6" y2="236.40" stroke="#8a8a8a" stroke-width="0.6"/>
<text x="276.70000000000005" y="238.5" font-size="6.9" text-anchor="end" fill="#1a1a1a" stroke="#1a1a1a" stroke-width="0.15">12</text>
<line x1="278.40000000000003" y1="227.70" x2="279.6" y2="227.70" stroke="#8a8a8a" stroke-width="0.6"/>
<text x="276.70000000000005" y="229.8" font-size="6.9" text-anchor="end" fill="#1a1a1a" stroke="#1a1a1a" stroke-width="0.15">14</text>
<line x1="278.40000000000003" y1="219.00" x2="279.6" y2="219.00" stroke="#8a8a8a" stroke-width="0.6"/>
<text x="276.70000000000005" y="221.1" font-size="6.9" text-anchor="end" fill="#1a1a1a" stroke="#1a1a1a" stroke-width="0.15">16</text>
<line x1="278.40000000000003" y1="210.30" x2="279.6" y2="210.30" stroke="#8a8a8a" stroke-width="0.6"/>
<text x="276.70000000000005" y="212.4" font-size="6.9" text-anchor="end" fill="#1a1a1a" stroke="#1a1a1a" stroke-width="0.15">18</text>
<line x1="279.6" y1="288.6" x2="382.5" y2="288.6" stroke="#555" stroke-width="0.8"/>
<line x1="281.30" y1="288.6" x2="281.30" y2="289.8" stroke="#777" stroke-width="0.5"/>
<line x1="298.45" y1="288.6" x2="298.45" y2="289.8" stroke="#777" stroke-width="0.5"/>
<line x1="315.60" y1="288.6" x2="315.60" y2="289.8" stroke="#777" stroke-width="0.5"/>
<line x1="332.75" y1="288.6" x2="332.75" y2="289.8" stroke="#777" stroke-width="0.5"/>
<line x1="349.90" y1="288.6" x2="349.90" y2="289.8" stroke="#777" stroke-width="0.5"/>
<line x1="367.05" y1="288.6" x2="367.05" y2="289.8" stroke="#777" stroke-width="0.5"/>
<rect x="283.30" y="284.55" width="4.8" height="4.05" fill="#fff" stroke="#111" stroke-width="0.6"/>
<line x1="290.75" y1="276.86" x2="290.75" y2="277.29" stroke="#444" stroke-width="0.6"/>
<line x1="289.70" y1="276.86" x2="291.80" y2="276.86" stroke="#444" stroke-width="0.6"/>
<rect x="288.40" y="277.29" width="4.8" height="11.31" fill="#000" rx="0.8"/>
<text x="0" y="0" font-size="5.9" text-anchor="end" fill="#1a1a1a" stroke="#1a1a1a" stroke-width="0.12" transform="translate(289.0,296.2) rotate(-45)">INSR</text>
<rect x="300.45" y="284.55" width="4.8" height="4.05" fill="#fff" stroke="#111" stroke-width="0.6"/>
<line x1="307.90" y1="276.64" x2="307.90" y2="277.51" stroke="#444" stroke-width="0.6"/>
<line x1="306.85" y1="276.64" x2="308.95" y2="276.64" stroke="#444" stroke-width="0.6"/>
<rect x="305.55" y="277.51" width="4.8" height="11.09" fill="#000" rx="0.8"/>
<text x="0" y="0" font-size="5.9" text-anchor="end" fill="#1a1a1a" stroke="#1a1a1a" stroke-width="0.12" transform="translate(306.1,296.2) rotate(-45)">IRS1</text>
<rect x="317.60" y="284.55" width="4.8" height="4.05" fill="#fff" stroke="#111" stroke-width="0.6"/>
<line x1="325.05" y1="277.51" x2="325.05" y2="279.90" stroke="#444" stroke-width="0.6"/>
<line x1="324.00" y1="277.51" x2="326.10" y2="277.51" stroke="#444" stroke-width="0.6"/>
<rect x="322.70" y="279.90" width="4.8" height="8.70" fill="#000" rx="0.8"/>
<text x="0" y="0" font-size="5.9" text-anchor="end" fill="#1a1a1a" stroke="#1a1a1a" stroke-width="0.12" transform="translate(323.3,296.2) rotate(-45)">SOCS1</text>
<rect x="334.75" y="284.55" width="4.8" height="4.05" fill="#fff" stroke="#111" stroke-width="0.6"/>
<line x1="342.20" y1="278.81" x2="342.20" y2="280.12" stroke="#444" stroke-width="0.6"/>
<line x1="341.15" y1="278.81" x2="343.25" y2="278.81" stroke="#444" stroke-width="0.6"/>
<rect x="339.85" y="280.12" width="4.8" height="8.48" fill="#000" rx="0.8"/>
<text x="0" y="0" font-size="5.9" text-anchor="end" fill="#1a1a1a" stroke="#1a1a1a" stroke-width="0.12" transform="translate(340.4,296.2) rotate(-45)">PIK3R1</text>
<rect x="351.90" y="284.55" width="4.8" height="4.05" fill="#fff" stroke="#111" stroke-width="0.6"/>
<line x1="359.35" y1="274.25" x2="359.35" y2="275.99" stroke="#444" stroke-width="0.6"/>
<line x1="358.30" y1="274.25" x2="360.40" y2="274.25" stroke="#444" stroke-width="0.6"/>
<rect x="357.00" y="275.99" width="4.8" height="12.62" fill="#000" rx="0.8"/>
<text x="0" y="0" font-size="5.9" text-anchor="end" fill="#1a1a1a" stroke="#1a1a1a" stroke-width="0.12" transform="translate(357.6,296.2) rotate(-45)">ALDH3A2</text>
<rect x="369.05" y="284.55" width="4.8" height="4.05" fill="#fff" stroke="#111" stroke-width="0.6"/>
<line x1="376.50" y1="214.65" x2="376.50" y2="231.18" stroke="#444" stroke-width="0.6"/>
<line x1="375.45" y1="214.65" x2="377.55" y2="214.65" stroke="#444" stroke-width="0.6"/>
<rect x="374.15" y="231.18" width="4.8" height="57.42" fill="#000" rx="0.8"/>
<text x="0" y="0" font-size="5.9" text-anchor="end" fill="#1a1a1a" stroke="#1a1a1a" stroke-width="0.12" transform="translate(374.8,296.2) rotate(-45)">DHRS2</text>
<text x="331.9" y="206.9" font-size="8.2" text-anchor="middle" textLength="18.8" lengthAdjust="spacingAndGlyphs" fill="#1a1a1a" stroke="#1a1a1a" stroke-width="0.2">LAN5</text>
<rect x="285.8" y="213.3" width="3.0" height="3.0" fill="#fff" stroke="#444" stroke-width="0.6"/>
<text x="289.40000000000003" y="216.9" font-size="6.9" textLength="18.2" lengthAdjust="spacingAndGlyphs" fill="#1a1a1a" stroke="#1a1a1a" stroke-width="0.22">CTRL</text>
<rect x="286.1" y="223.9" width="3.2" height="3.5" fill="#000"/>
<text x="290.6" y="227.9" font-size="6.9" textLength="36.6" lengthAdjust="spacingAndGlyphs" fill="#1a1a1a" stroke="#1a1a1a" stroke-width="0.22">CHAF1A KD</text>
<text x="0" y="0" font-size="7.5" text-anchor="middle" fill="#1a1a1a" stroke="#1a1a1a" stroke-width="0.2" transform="translate(130.0,251.0) rotate(-90)" textLength="87.5" lengthAdjust="spacingAndGlyphs">Fold change in expression</text>
<rect x="0" y="0" width="520" height="1" fill="#b6b6b6"/>
<rect x="0" y="0" width="1" height="329" fill="#8e8e8e"/>
<rect x="518" y="0" width="1" height="329" fill="#b0b0b0"/>
<rect x="519" y="0" width="1" height="329" fill="#8e8e8e"/>
<rect x="0" y="327" width="520" height="1" fill="#b0b0b0"/>
<rect x="0" y="328" width="520" height="1" fill="#8e8e8e"/>
</svg>
</body></html>
